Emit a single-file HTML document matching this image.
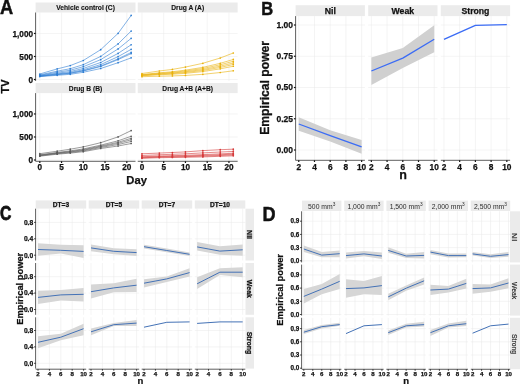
<!DOCTYPE html>
<html><head><meta charset="utf-8"><style>
html,body{margin:0;padding:0;background:#fff;width:520px;height:384px;overflow:hidden}
svg{display:block;font-family:"Liberation Sans",sans-serif;will-change:transform}
</style></head><body>
<svg width="520" height="384" viewBox="0 0 520 384">
<rect width="520" height="384" fill="#fff"/>
<text transform="translate(0.1 14.0) scale(0.97 1.06)" font-size="18.8" font-weight="bold" fill="#111" stroke="#111" stroke-width="0.45">A</text>
<rect x="35.6" y="2.5" width="99.9" height="10" fill="#EBEBEB"/>
<text x="85.55" y="10" font-size="6.7" font-weight="bold" text-anchor="middle" fill="#111" stroke="#111" stroke-width="0.12">Vehicle control (C)</text>
<line x1="39.8" y1="12.5" x2="39.8" y2="81" stroke="#E9E9E9" stroke-width="0.5"/>
<line x1="61.55" y1="12.5" x2="61.55" y2="81" stroke="#E9E9E9" stroke-width="0.5"/>
<line x1="83.3" y1="12.5" x2="83.3" y2="81" stroke="#E9E9E9" stroke-width="0.5"/>
<line x1="105.05" y1="12.5" x2="105.05" y2="81" stroke="#E9E9E9" stroke-width="0.5"/>
<line x1="126.8" y1="12.5" x2="126.8" y2="81" stroke="#E9E9E9" stroke-width="0.5"/>
<line x1="35.6" y1="79.5" x2="135.5" y2="79.5" stroke="#E9E9E9" stroke-width="0.5"/>
<line x1="35.6" y1="56.48" x2="135.5" y2="56.48" stroke="#E9E9E9" stroke-width="0.5"/>
<line x1="35.6" y1="33.46" x2="135.5" y2="33.46" stroke="#E9E9E9" stroke-width="0.5"/>
<rect x="137.75" y="2.5" width="99.9" height="10" fill="#EBEBEB"/>
<text x="187.7" y="10" font-size="6.7" font-weight="bold" text-anchor="middle" fill="#111" stroke="#111" stroke-width="0.12">Drug A (A)</text>
<line x1="141.95" y1="12.5" x2="141.95" y2="81" stroke="#E9E9E9" stroke-width="0.5"/>
<line x1="163.7" y1="12.5" x2="163.7" y2="81" stroke="#E9E9E9" stroke-width="0.5"/>
<line x1="185.45" y1="12.5" x2="185.45" y2="81" stroke="#E9E9E9" stroke-width="0.5"/>
<line x1="207.2" y1="12.5" x2="207.2" y2="81" stroke="#E9E9E9" stroke-width="0.5"/>
<line x1="228.95" y1="12.5" x2="228.95" y2="81" stroke="#E9E9E9" stroke-width="0.5"/>
<line x1="137.75" y1="79.5" x2="237.65" y2="79.5" stroke="#E9E9E9" stroke-width="0.5"/>
<line x1="137.75" y1="56.48" x2="237.65" y2="56.48" stroke="#E9E9E9" stroke-width="0.5"/>
<line x1="137.75" y1="33.46" x2="237.65" y2="33.46" stroke="#E9E9E9" stroke-width="0.5"/>
<line x1="35.6" y1="12.5" x2="35.6" y2="81" stroke="#4d4d4d" stroke-width="0.9"/>
<line x1="33.9" y1="79.5" x2="35.6" y2="79.5" stroke="#111" stroke-width="1.2"/>
<text x="33" y="82.6" font-size="8.2" font-weight="bold" text-anchor="end" fill="#111" stroke="#111" stroke-width="0.25">0</text>
<line x1="33.9" y1="56.48" x2="35.6" y2="56.48" stroke="#111" stroke-width="1.2"/>
<text x="33" y="59.58" font-size="8.2" font-weight="bold" text-anchor="end" fill="#111" stroke="#111" stroke-width="0.25">500</text>
<line x1="33.9" y1="33.46" x2="35.6" y2="33.46" stroke="#111" stroke-width="1.2"/>
<text x="33" y="36.56" font-size="8.2" font-weight="bold" text-anchor="end" fill="#111" stroke="#111" stroke-width="0.25">1,000</text>
<rect x="35.6" y="83" width="99.9" height="10.1" fill="#EBEBEB"/>
<text x="85.55" y="90.6" font-size="6.7" font-weight="bold" text-anchor="middle" fill="#111" stroke="#111" stroke-width="0.12">Drug B (B)</text>
<line x1="39.8" y1="93.1" x2="39.8" y2="161.3" stroke="#E9E9E9" stroke-width="0.5"/>
<line x1="61.55" y1="93.1" x2="61.55" y2="161.3" stroke="#E9E9E9" stroke-width="0.5"/>
<line x1="83.3" y1="93.1" x2="83.3" y2="161.3" stroke="#E9E9E9" stroke-width="0.5"/>
<line x1="105.05" y1="93.1" x2="105.05" y2="161.3" stroke="#E9E9E9" stroke-width="0.5"/>
<line x1="126.8" y1="93.1" x2="126.8" y2="161.3" stroke="#E9E9E9" stroke-width="0.5"/>
<line x1="35.6" y1="160" x2="135.5" y2="160" stroke="#E9E9E9" stroke-width="0.5"/>
<line x1="35.6" y1="136.98" x2="135.5" y2="136.98" stroke="#E9E9E9" stroke-width="0.5"/>
<line x1="35.6" y1="113.96" x2="135.5" y2="113.96" stroke="#E9E9E9" stroke-width="0.5"/>
<rect x="137.75" y="83" width="99.9" height="10.1" fill="#EBEBEB"/>
<text x="187.7" y="90.6" font-size="6.7" font-weight="bold" text-anchor="middle" fill="#111" stroke="#111" stroke-width="0.12">Drug A+B (A+B)</text>
<line x1="141.95" y1="93.1" x2="141.95" y2="161.3" stroke="#E9E9E9" stroke-width="0.5"/>
<line x1="163.7" y1="93.1" x2="163.7" y2="161.3" stroke="#E9E9E9" stroke-width="0.5"/>
<line x1="185.45" y1="93.1" x2="185.45" y2="161.3" stroke="#E9E9E9" stroke-width="0.5"/>
<line x1="207.2" y1="93.1" x2="207.2" y2="161.3" stroke="#E9E9E9" stroke-width="0.5"/>
<line x1="228.95" y1="93.1" x2="228.95" y2="161.3" stroke="#E9E9E9" stroke-width="0.5"/>
<line x1="137.75" y1="160" x2="237.65" y2="160" stroke="#E9E9E9" stroke-width="0.5"/>
<line x1="137.75" y1="136.98" x2="237.65" y2="136.98" stroke="#E9E9E9" stroke-width="0.5"/>
<line x1="137.75" y1="113.96" x2="237.65" y2="113.96" stroke="#E9E9E9" stroke-width="0.5"/>
<line x1="35.6" y1="93.1" x2="35.6" y2="161.3" stroke="#4d4d4d" stroke-width="0.9"/>
<line x1="33.9" y1="160" x2="35.6" y2="160" stroke="#111" stroke-width="1.2"/>
<text x="33" y="163.1" font-size="8.2" font-weight="bold" text-anchor="end" fill="#111" stroke="#111" stroke-width="0.25">0</text>
<line x1="33.9" y1="136.98" x2="35.6" y2="136.98" stroke="#111" stroke-width="1.2"/>
<text x="33" y="140.08" font-size="8.2" font-weight="bold" text-anchor="end" fill="#111" stroke="#111" stroke-width="0.25">500</text>
<line x1="33.9" y1="113.96" x2="35.6" y2="113.96" stroke="#111" stroke-width="1.2"/>
<text x="33" y="117.06" font-size="8.2" font-weight="bold" text-anchor="end" fill="#111" stroke="#111" stroke-width="0.25">1,000</text>
<line x1="35.6" y1="161.3" x2="135.5" y2="161.3" stroke="#4d4d4d" stroke-width="0.9"/>
<line x1="39.8" y1="161.3" x2="39.8" y2="163" stroke="#111" stroke-width="1.2"/>
<text x="39.8" y="169.5" font-size="8.2" font-weight="bold" text-anchor="middle" fill="#111" stroke="#111" stroke-width="0.25">0</text>
<line x1="61.55" y1="161.3" x2="61.55" y2="163" stroke="#111" stroke-width="1.2"/>
<text x="61.55" y="169.5" font-size="8.2" font-weight="bold" text-anchor="middle" fill="#111" stroke="#111" stroke-width="0.25">5</text>
<line x1="83.3" y1="161.3" x2="83.3" y2="163" stroke="#111" stroke-width="1.2"/>
<text x="83.3" y="169.5" font-size="8.2" font-weight="bold" text-anchor="middle" fill="#111" stroke="#111" stroke-width="0.25">10</text>
<line x1="105.05" y1="161.3" x2="105.05" y2="163" stroke="#111" stroke-width="1.2"/>
<text x="105.05" y="169.5" font-size="8.2" font-weight="bold" text-anchor="middle" fill="#111" stroke="#111" stroke-width="0.25">15</text>
<line x1="126.8" y1="161.3" x2="126.8" y2="163" stroke="#111" stroke-width="1.2"/>
<text x="126.8" y="169.5" font-size="8.2" font-weight="bold" text-anchor="middle" fill="#111" stroke="#111" stroke-width="0.25">20</text>
<line x1="137.75" y1="161.3" x2="237.65" y2="161.3" stroke="#4d4d4d" stroke-width="0.9"/>
<line x1="141.95" y1="161.3" x2="141.95" y2="163" stroke="#111" stroke-width="1.2"/>
<text x="141.95" y="169.5" font-size="8.2" font-weight="bold" text-anchor="middle" fill="#111" stroke="#111" stroke-width="0.25">0</text>
<line x1="163.7" y1="161.3" x2="163.7" y2="163" stroke="#111" stroke-width="1.2"/>
<text x="163.7" y="169.5" font-size="8.2" font-weight="bold" text-anchor="middle" fill="#111" stroke="#111" stroke-width="0.25">5</text>
<line x1="185.45" y1="161.3" x2="185.45" y2="163" stroke="#111" stroke-width="1.2"/>
<text x="185.45" y="169.5" font-size="8.2" font-weight="bold" text-anchor="middle" fill="#111" stroke="#111" stroke-width="0.25">10</text>
<line x1="207.2" y1="161.3" x2="207.2" y2="163" stroke="#111" stroke-width="1.2"/>
<text x="207.2" y="169.5" font-size="8.2" font-weight="bold" text-anchor="middle" fill="#111" stroke="#111" stroke-width="0.25">15</text>
<line x1="228.95" y1="161.3" x2="228.95" y2="163" stroke="#111" stroke-width="1.2"/>
<text x="228.95" y="169.5" font-size="8.2" font-weight="bold" text-anchor="middle" fill="#111" stroke="#111" stroke-width="0.25">20</text>
<text x="136.6" y="184" font-size="11.2" font-weight="bold" text-anchor="middle" fill="#111" stroke="#111" stroke-width="0.25">Day</text>
<text x="9.1" y="86.5" font-size="11" font-weight="bold" text-anchor="middle" fill="#111" stroke="#111" stroke-width="0.25" transform="rotate(-90 9.1 86.5)">TV</text>
<polyline points="39.8,73.98 57.2,68.91 70.25,65.6 83.3,60.49 100.7,49.67 118.1,33.37 131.15,15.46" fill="none" stroke="#2F7ED3" stroke-width="0.6" stroke-linejoin="round"/>
<circle cx="39.8" cy="73.98" r="0.85" fill="#2F7ED3"/>
<circle cx="57.2" cy="68.91" r="0.85" fill="#2F7ED3"/>
<circle cx="70.25" cy="65.6" r="0.85" fill="#2F7ED3"/>
<circle cx="83.3" cy="60.49" r="0.85" fill="#2F7ED3"/>
<circle cx="100.7" cy="49.67" r="0.85" fill="#2F7ED3"/>
<circle cx="118.1" cy="33.37" r="0.85" fill="#2F7ED3"/>
<circle cx="131.15" cy="15.46" r="0.85" fill="#2F7ED3"/>
<polyline points="39.8,74.82 57.2,71.16 70.25,68.7 83.3,64.67 100.7,56.41 118.1,43.91 131.15,31.04" fill="none" stroke="#2F7ED3" stroke-width="0.6" stroke-linejoin="round"/>
<circle cx="39.8" cy="74.82" r="0.85" fill="#2F7ED3"/>
<circle cx="57.2" cy="71.16" r="0.85" fill="#2F7ED3"/>
<circle cx="70.25" cy="68.7" r="0.85" fill="#2F7ED3"/>
<circle cx="83.3" cy="64.67" r="0.85" fill="#2F7ED3"/>
<circle cx="100.7" cy="56.41" r="0.85" fill="#2F7ED3"/>
<circle cx="118.1" cy="43.91" r="0.85" fill="#2F7ED3"/>
<circle cx="131.15" cy="31.04" r="0.85" fill="#2F7ED3"/>
<polyline points="39.8,75.25 57.2,72.25 70.25,70.19 83.3,66.69 100.7,59.64 118.1,48.95 131.15,38.37" fill="none" stroke="#2F7ED3" stroke-width="0.6" stroke-linejoin="round"/>
<circle cx="39.8" cy="75.25" r="0.85" fill="#2F7ED3"/>
<circle cx="57.2" cy="72.25" r="0.85" fill="#2F7ED3"/>
<circle cx="70.25" cy="70.19" r="0.85" fill="#2F7ED3"/>
<circle cx="83.3" cy="66.69" r="0.85" fill="#2F7ED3"/>
<circle cx="100.7" cy="59.64" r="0.85" fill="#2F7ED3"/>
<circle cx="118.1" cy="48.95" r="0.85" fill="#2F7ED3"/>
<circle cx="131.15" cy="38.37" r="0.85" fill="#2F7ED3"/>
<polyline points="39.8,75.66 57.2,73.22 70.25,71.51 83.3,68.48 100.7,62.5 118.1,53.4 131.15,44.77" fill="none" stroke="#2F7ED3" stroke-width="0.6" stroke-linejoin="round"/>
<circle cx="39.8" cy="75.66" r="0.85" fill="#2F7ED3"/>
<circle cx="57.2" cy="73.22" r="0.85" fill="#2F7ED3"/>
<circle cx="70.25" cy="71.51" r="0.85" fill="#2F7ED3"/>
<circle cx="83.3" cy="68.48" r="0.85" fill="#2F7ED3"/>
<circle cx="100.7" cy="62.5" r="0.85" fill="#2F7ED3"/>
<circle cx="118.1" cy="53.4" r="0.85" fill="#2F7ED3"/>
<circle cx="131.15" cy="44.77" r="0.85" fill="#2F7ED3"/>
<polyline points="39.8,75.97 57.2,73.94 70.25,72.48 83.3,69.79 100.7,64.58 118.1,56.63 131.15,49.37" fill="none" stroke="#2F7ED3" stroke-width="0.6" stroke-linejoin="round"/>
<circle cx="39.8" cy="75.97" r="0.85" fill="#2F7ED3"/>
<circle cx="57.2" cy="73.94" r="0.85" fill="#2F7ED3"/>
<circle cx="70.25" cy="72.48" r="0.85" fill="#2F7ED3"/>
<circle cx="83.3" cy="69.79" r="0.85" fill="#2F7ED3"/>
<circle cx="100.7" cy="64.58" r="0.85" fill="#2F7ED3"/>
<circle cx="118.1" cy="56.63" r="0.85" fill="#2F7ED3"/>
<circle cx="131.15" cy="49.37" r="0.85" fill="#2F7ED3"/>
<polyline points="39.8,76.19 57.2,74.43 70.25,73.14 83.3,70.69 100.7,66 118.1,58.83 131.15,52.47" fill="none" stroke="#2F7ED3" stroke-width="0.6" stroke-linejoin="round"/>
<circle cx="39.8" cy="76.19" r="0.85" fill="#2F7ED3"/>
<circle cx="57.2" cy="74.43" r="0.85" fill="#2F7ED3"/>
<circle cx="70.25" cy="73.14" r="0.85" fill="#2F7ED3"/>
<circle cx="83.3" cy="70.69" r="0.85" fill="#2F7ED3"/>
<circle cx="100.7" cy="66" r="0.85" fill="#2F7ED3"/>
<circle cx="118.1" cy="58.83" r="0.85" fill="#2F7ED3"/>
<circle cx="131.15" cy="52.47" r="0.85" fill="#2F7ED3"/>
<polyline points="39.8,76.27 57.2,74.61 70.25,73.38 83.3,71.01 100.7,66.52 118.1,59.63 131.15,53.59" fill="none" stroke="#2F7ED3" stroke-width="0.6" stroke-linejoin="round"/>
<circle cx="39.8" cy="76.27" r="0.85" fill="#2F7ED3"/>
<circle cx="57.2" cy="74.61" r="0.85" fill="#2F7ED3"/>
<circle cx="70.25" cy="73.38" r="0.85" fill="#2F7ED3"/>
<circle cx="83.3" cy="71.01" r="0.85" fill="#2F7ED3"/>
<circle cx="100.7" cy="66.52" r="0.85" fill="#2F7ED3"/>
<circle cx="118.1" cy="59.63" r="0.85" fill="#2F7ED3"/>
<circle cx="131.15" cy="53.59" r="0.85" fill="#2F7ED3"/>
<polyline points="39.8,76.6 57.2,75.31 70.25,74.3 83.3,72.27 100.7,68.5 118.1,62.7 131.15,57.86" fill="none" stroke="#2F7ED3" stroke-width="0.6" stroke-linejoin="round"/>
<circle cx="39.8" cy="76.6" r="0.85" fill="#2F7ED3"/>
<circle cx="57.2" cy="75.31" r="0.85" fill="#2F7ED3"/>
<circle cx="70.25" cy="74.3" r="0.85" fill="#2F7ED3"/>
<circle cx="83.3" cy="72.27" r="0.85" fill="#2F7ED3"/>
<circle cx="100.7" cy="68.5" r="0.85" fill="#2F7ED3"/>
<circle cx="118.1" cy="62.7" r="0.85" fill="#2F7ED3"/>
<circle cx="131.15" cy="57.86" r="0.85" fill="#2F7ED3"/>
<polyline points="141.95,73.51 159.35,70.98 172.4,69.42 185.45,67.07 202.85,63.29 220.25,58 233.3,52.98" fill="none" stroke="#E9B10C" stroke-width="0.6" stroke-linejoin="round"/>
<circle cx="141.95" cy="73.51" r="0.85" fill="#E9B10C"/>
<circle cx="159.35" cy="70.98" r="0.85" fill="#E9B10C"/>
<circle cx="172.4" cy="69.42" r="0.85" fill="#E9B10C"/>
<circle cx="185.45" cy="67.07" r="0.85" fill="#E9B10C"/>
<circle cx="202.85" cy="63.29" r="0.85" fill="#E9B10C"/>
<circle cx="220.25" cy="58" r="0.85" fill="#E9B10C"/>
<circle cx="233.3" cy="52.98" r="0.85" fill="#E9B10C"/>
<polyline points="141.95,74.56 159.35,72.79 172.4,71.73 185.45,70.14 202.85,67.37 220.25,63.31 233.3,59.47" fill="none" stroke="#E9B10C" stroke-width="0.6" stroke-linejoin="round"/>
<circle cx="141.95" cy="74.56" r="0.85" fill="#E9B10C"/>
<circle cx="159.35" cy="72.79" r="0.85" fill="#E9B10C"/>
<circle cx="172.4" cy="71.73" r="0.85" fill="#E9B10C"/>
<circle cx="185.45" cy="70.14" r="0.85" fill="#E9B10C"/>
<circle cx="202.85" cy="67.37" r="0.85" fill="#E9B10C"/>
<circle cx="220.25" cy="63.31" r="0.85" fill="#E9B10C"/>
<circle cx="233.3" cy="59.47" r="0.85" fill="#E9B10C"/>
<polyline points="141.95,74.87 159.35,73.31 172.4,72.39 185.45,70.99 202.85,68.5 220.25,64.79 233.3,61.27" fill="none" stroke="#E9B10C" stroke-width="0.6" stroke-linejoin="round"/>
<circle cx="141.95" cy="74.87" r="0.85" fill="#E9B10C"/>
<circle cx="159.35" cy="73.31" r="0.85" fill="#E9B10C"/>
<circle cx="172.4" cy="72.39" r="0.85" fill="#E9B10C"/>
<circle cx="185.45" cy="70.99" r="0.85" fill="#E9B10C"/>
<circle cx="202.85" cy="68.5" r="0.85" fill="#E9B10C"/>
<circle cx="220.25" cy="64.79" r="0.85" fill="#E9B10C"/>
<circle cx="233.3" cy="61.27" r="0.85" fill="#E9B10C"/>
<polyline points="141.95,75.16 159.35,73.8 172.4,73 185.45,71.79 202.85,69.55 220.25,66.17 233.3,62.97" fill="none" stroke="#E9B10C" stroke-width="0.6" stroke-linejoin="round"/>
<circle cx="141.95" cy="75.16" r="0.85" fill="#E9B10C"/>
<circle cx="159.35" cy="73.8" r="0.85" fill="#E9B10C"/>
<circle cx="172.4" cy="73" r="0.85" fill="#E9B10C"/>
<circle cx="185.45" cy="71.79" r="0.85" fill="#E9B10C"/>
<circle cx="202.85" cy="69.55" r="0.85" fill="#E9B10C"/>
<circle cx="220.25" cy="66.17" r="0.85" fill="#E9B10C"/>
<circle cx="233.3" cy="62.97" r="0.85" fill="#E9B10C"/>
<polyline points="141.95,75.44 159.35,74.25 172.4,73.56 185.45,72.51 202.85,70.49 220.25,67.41 233.3,64.49" fill="none" stroke="#E9B10C" stroke-width="0.6" stroke-linejoin="round"/>
<circle cx="141.95" cy="75.44" r="0.85" fill="#E9B10C"/>
<circle cx="159.35" cy="74.25" r="0.85" fill="#E9B10C"/>
<circle cx="172.4" cy="73.56" r="0.85" fill="#E9B10C"/>
<circle cx="185.45" cy="72.51" r="0.85" fill="#E9B10C"/>
<circle cx="202.85" cy="70.49" r="0.85" fill="#E9B10C"/>
<circle cx="220.25" cy="67.41" r="0.85" fill="#E9B10C"/>
<circle cx="233.3" cy="64.49" r="0.85" fill="#E9B10C"/>
<polyline points="141.95,75.77 159.35,74.78 172.4,74.21 185.45,73.33 202.85,71.58 220.25,68.84 233.3,66.24" fill="none" stroke="#E9B10C" stroke-width="0.6" stroke-linejoin="round"/>
<circle cx="141.95" cy="75.77" r="0.85" fill="#E9B10C"/>
<circle cx="159.35" cy="74.78" r="0.85" fill="#E9B10C"/>
<circle cx="172.4" cy="74.21" r="0.85" fill="#E9B10C"/>
<circle cx="185.45" cy="73.33" r="0.85" fill="#E9B10C"/>
<circle cx="202.85" cy="71.58" r="0.85" fill="#E9B10C"/>
<circle cx="220.25" cy="68.84" r="0.85" fill="#E9B10C"/>
<circle cx="233.3" cy="66.24" r="0.85" fill="#E9B10C"/>
<polyline points="141.95,76.69 159.35,76.19 172.4,75.91 185.45,75.45 202.85,74.34 220.25,72.5 233.3,70.75" fill="none" stroke="#E9B10C" stroke-width="0.6" stroke-linejoin="round"/>
<circle cx="141.95" cy="76.69" r="0.85" fill="#E9B10C"/>
<circle cx="159.35" cy="76.19" r="0.85" fill="#E9B10C"/>
<circle cx="172.4" cy="75.91" r="0.85" fill="#E9B10C"/>
<circle cx="185.45" cy="75.45" r="0.85" fill="#E9B10C"/>
<circle cx="202.85" cy="74.34" r="0.85" fill="#E9B10C"/>
<circle cx="220.25" cy="72.5" r="0.85" fill="#E9B10C"/>
<circle cx="233.3" cy="70.75" r="0.85" fill="#E9B10C"/>
<polyline points="39.8,153.69 57.2,151.21 70.25,149.18 83.3,146.88 100.7,142.69 118.1,136.89 131.15,130.58" fill="none" stroke="#5A5A5A" stroke-width="0.6" stroke-linejoin="round"/>
<circle cx="39.8" cy="153.69" r="0.85" fill="#5A5A5A"/>
<circle cx="57.2" cy="151.21" r="0.85" fill="#5A5A5A"/>
<circle cx="70.25" cy="149.18" r="0.85" fill="#5A5A5A"/>
<circle cx="83.3" cy="146.88" r="0.85" fill="#5A5A5A"/>
<circle cx="100.7" cy="142.69" r="0.85" fill="#5A5A5A"/>
<circle cx="118.1" cy="136.89" r="0.85" fill="#5A5A5A"/>
<circle cx="131.15" cy="130.58" r="0.85" fill="#5A5A5A"/>
<polyline points="39.8,154.77 57.2,152.47 70.25,150.84 83.3,148.94 100.7,145.13 118.1,140.82 131.15,136.28" fill="none" stroke="#5A5A5A" stroke-width="0.6" stroke-linejoin="round"/>
<circle cx="39.8" cy="154.77" r="0.85" fill="#5A5A5A"/>
<circle cx="57.2" cy="152.47" r="0.85" fill="#5A5A5A"/>
<circle cx="70.25" cy="150.84" r="0.85" fill="#5A5A5A"/>
<circle cx="83.3" cy="148.94" r="0.85" fill="#5A5A5A"/>
<circle cx="100.7" cy="145.13" r="0.85" fill="#5A5A5A"/>
<circle cx="118.1" cy="140.82" r="0.85" fill="#5A5A5A"/>
<circle cx="131.15" cy="136.28" r="0.85" fill="#5A5A5A"/>
<polyline points="39.8,155.15 57.2,152.93 70.25,151.46 83.3,149.7 100.7,146.03 118.1,142.25 131.15,138.31" fill="none" stroke="#5A5A5A" stroke-width="0.6" stroke-linejoin="round"/>
<circle cx="39.8" cy="155.15" r="0.85" fill="#5A5A5A"/>
<circle cx="57.2" cy="152.93" r="0.85" fill="#5A5A5A"/>
<circle cx="70.25" cy="151.46" r="0.85" fill="#5A5A5A"/>
<circle cx="83.3" cy="149.7" r="0.85" fill="#5A5A5A"/>
<circle cx="100.7" cy="146.03" r="0.85" fill="#5A5A5A"/>
<circle cx="118.1" cy="142.25" r="0.85" fill="#5A5A5A"/>
<circle cx="131.15" cy="138.31" r="0.85" fill="#5A5A5A"/>
<polyline points="39.8,155.44 57.2,153.28 70.25,151.91 83.3,150.26 100.7,146.71 118.1,143.3 131.15,139.79" fill="none" stroke="#5A5A5A" stroke-width="0.6" stroke-linejoin="round"/>
<circle cx="39.8" cy="155.44" r="0.85" fill="#5A5A5A"/>
<circle cx="57.2" cy="153.28" r="0.85" fill="#5A5A5A"/>
<circle cx="70.25" cy="151.91" r="0.85" fill="#5A5A5A"/>
<circle cx="83.3" cy="150.26" r="0.85" fill="#5A5A5A"/>
<circle cx="100.7" cy="146.71" r="0.85" fill="#5A5A5A"/>
<circle cx="118.1" cy="143.3" r="0.85" fill="#5A5A5A"/>
<circle cx="131.15" cy="139.79" r="0.85" fill="#5A5A5A"/>
<polyline points="39.8,155.78 57.2,153.7 70.25,152.45 83.3,150.92 100.7,147.51 118.1,144.53 131.15,141.49" fill="none" stroke="#5A5A5A" stroke-width="0.6" stroke-linejoin="round"/>
<circle cx="39.8" cy="155.78" r="0.85" fill="#5A5A5A"/>
<circle cx="57.2" cy="153.7" r="0.85" fill="#5A5A5A"/>
<circle cx="70.25" cy="152.45" r="0.85" fill="#5A5A5A"/>
<circle cx="83.3" cy="150.92" r="0.85" fill="#5A5A5A"/>
<circle cx="100.7" cy="147.51" r="0.85" fill="#5A5A5A"/>
<circle cx="118.1" cy="144.53" r="0.85" fill="#5A5A5A"/>
<circle cx="131.15" cy="141.49" r="0.85" fill="#5A5A5A"/>
<polyline points="39.8,156.18 57.2,154.2 70.25,153.09 83.3,151.71 100.7,148.49 118.1,146 131.15,143.52" fill="none" stroke="#5A5A5A" stroke-width="0.6" stroke-linejoin="round"/>
<circle cx="39.8" cy="156.18" r="0.85" fill="#5A5A5A"/>
<circle cx="57.2" cy="154.2" r="0.85" fill="#5A5A5A"/>
<circle cx="70.25" cy="153.09" r="0.85" fill="#5A5A5A"/>
<circle cx="83.3" cy="151.71" r="0.85" fill="#5A5A5A"/>
<circle cx="100.7" cy="148.49" r="0.85" fill="#5A5A5A"/>
<circle cx="118.1" cy="146" r="0.85" fill="#5A5A5A"/>
<circle cx="131.15" cy="143.52" r="0.85" fill="#5A5A5A"/>
<polyline points="141.95,153.78 159.35,153.09 172.4,152.5 185.45,151.9 202.85,150.61 220.25,149.69 233.3,149.18" fill="none" stroke="#D53A3A" stroke-width="0.6" stroke-linejoin="round"/>
<circle cx="141.95" cy="153.78" r="0.85" fill="#D53A3A"/>
<circle cx="159.35" cy="153.09" r="0.85" fill="#D53A3A"/>
<circle cx="172.4" cy="152.5" r="0.85" fill="#D53A3A"/>
<circle cx="185.45" cy="151.9" r="0.85" fill="#D53A3A"/>
<circle cx="202.85" cy="150.61" r="0.85" fill="#D53A3A"/>
<circle cx="220.25" cy="149.69" r="0.85" fill="#D53A3A"/>
<circle cx="233.3" cy="149.18" r="0.85" fill="#D53A3A"/>
<polyline points="141.95,155.5 159.35,154.75 172.4,154.31 185.45,153.83 202.85,152.89 220.25,152.03 233.3,151.47" fill="none" stroke="#D53A3A" stroke-width="0.6" stroke-linejoin="round"/>
<circle cx="141.95" cy="155.5" r="0.85" fill="#D53A3A"/>
<circle cx="159.35" cy="154.75" r="0.85" fill="#D53A3A"/>
<circle cx="172.4" cy="154.31" r="0.85" fill="#D53A3A"/>
<circle cx="185.45" cy="153.83" r="0.85" fill="#D53A3A"/>
<circle cx="202.85" cy="152.89" r="0.85" fill="#D53A3A"/>
<circle cx="220.25" cy="152.03" r="0.85" fill="#D53A3A"/>
<circle cx="233.3" cy="151.47" r="0.85" fill="#D53A3A"/>
<polyline points="141.95,156.75 159.35,156.01 172.4,155.68 185.45,155.31 202.85,154.62 220.25,153.84 233.3,153.27" fill="none" stroke="#D53A3A" stroke-width="0.6" stroke-linejoin="round"/>
<circle cx="141.95" cy="156.75" r="0.85" fill="#D53A3A"/>
<circle cx="159.35" cy="156.01" r="0.85" fill="#D53A3A"/>
<circle cx="172.4" cy="155.68" r="0.85" fill="#D53A3A"/>
<circle cx="185.45" cy="155.31" r="0.85" fill="#D53A3A"/>
<circle cx="202.85" cy="154.62" r="0.85" fill="#D53A3A"/>
<circle cx="220.25" cy="153.84" r="0.85" fill="#D53A3A"/>
<circle cx="233.3" cy="153.27" r="0.85" fill="#D53A3A"/>
<polyline points="141.95,157.32 159.35,156.62 172.4,156.34 185.45,156.02 202.85,155.45 220.25,154.72 233.3,154.16" fill="none" stroke="#D53A3A" stroke-width="0.6" stroke-linejoin="round"/>
<circle cx="141.95" cy="157.32" r="0.85" fill="#D53A3A"/>
<circle cx="159.35" cy="156.62" r="0.85" fill="#D53A3A"/>
<circle cx="172.4" cy="156.34" r="0.85" fill="#D53A3A"/>
<circle cx="185.45" cy="156.02" r="0.85" fill="#D53A3A"/>
<circle cx="202.85" cy="155.45" r="0.85" fill="#D53A3A"/>
<circle cx="220.25" cy="154.72" r="0.85" fill="#D53A3A"/>
<circle cx="233.3" cy="154.16" r="0.85" fill="#D53A3A"/>
<polyline points="141.95,157.79 159.35,157.13 172.4,156.9 185.45,156.62 202.85,156.15 220.25,155.47 233.3,154.93" fill="none" stroke="#D53A3A" stroke-width="0.6" stroke-linejoin="round"/>
<circle cx="141.95" cy="157.79" r="0.85" fill="#D53A3A"/>
<circle cx="159.35" cy="157.13" r="0.85" fill="#D53A3A"/>
<circle cx="172.4" cy="156.9" r="0.85" fill="#D53A3A"/>
<circle cx="185.45" cy="156.62" r="0.85" fill="#D53A3A"/>
<circle cx="202.85" cy="156.15" r="0.85" fill="#D53A3A"/>
<circle cx="220.25" cy="155.47" r="0.85" fill="#D53A3A"/>
<circle cx="233.3" cy="154.93" r="0.85" fill="#D53A3A"/>
<polyline points="141.95,158.3 159.35,157.7 172.4,157.51 185.45,157.28 202.85,156.92 220.25,156.32 233.3,155.81" fill="none" stroke="#D53A3A" stroke-width="0.6" stroke-linejoin="round"/>
<circle cx="141.95" cy="158.3" r="0.85" fill="#D53A3A"/>
<circle cx="159.35" cy="157.7" r="0.85" fill="#D53A3A"/>
<circle cx="172.4" cy="157.51" r="0.85" fill="#D53A3A"/>
<circle cx="185.45" cy="157.28" r="0.85" fill="#D53A3A"/>
<circle cx="202.85" cy="156.92" r="0.85" fill="#D53A3A"/>
<circle cx="220.25" cy="156.32" r="0.85" fill="#D53A3A"/>
<circle cx="233.3" cy="155.81" r="0.85" fill="#D53A3A"/>
<line x1="141.95" y1="153.78" x2="141.95" y2="158.3" stroke="#D53A3A" stroke-width="0.7"/>
<line x1="159.35" y1="153.09" x2="159.35" y2="157.7" stroke="#D53A3A" stroke-width="0.7"/>
<line x1="172.4" y1="152.5" x2="172.4" y2="157.51" stroke="#D53A3A" stroke-width="0.7"/>
<line x1="185.45" y1="151.9" x2="185.45" y2="157.28" stroke="#D53A3A" stroke-width="0.7"/>
<line x1="202.85" y1="150.61" x2="202.85" y2="156.92" stroke="#D53A3A" stroke-width="0.7"/>
<line x1="220.25" y1="149.69" x2="220.25" y2="156.32" stroke="#D53A3A" stroke-width="0.7"/>
<line x1="233.3" y1="149.18" x2="233.3" y2="155.81" stroke="#D53A3A" stroke-width="0.7"/>
<text transform="translate(261.2 15.3) scale(0.89 1.03)" font-size="18.5" font-weight="bold" fill="#111" stroke="#111" stroke-width="0.5">B</text>
<rect x="295.6" y="5.2" width="69.3" height="10.9" fill="#EBEBEB"/>
<text x="330.25" y="13.85" font-size="8.7" font-weight="bold" text-anchor="middle" fill="#111" stroke="#111" stroke-width="0.25">Nil</text>
<line x1="298.75" y1="16.1" x2="298.75" y2="160.3" stroke="#E9E9E9" stroke-width="0.5"/>
<line x1="314.47" y1="16.1" x2="314.47" y2="160.3" stroke="#E9E9E9" stroke-width="0.5"/>
<line x1="330.19" y1="16.1" x2="330.19" y2="160.3" stroke="#E9E9E9" stroke-width="0.5"/>
<line x1="345.91" y1="16.1" x2="345.91" y2="160.3" stroke="#E9E9E9" stroke-width="0.5"/>
<line x1="361.63" y1="16.1" x2="361.63" y2="160.3" stroke="#E9E9E9" stroke-width="0.5"/>
<line x1="295.6" y1="150" x2="364.9" y2="150" stroke="#E9E9E9" stroke-width="0.5"/>
<line x1="295.6" y1="118.75" x2="364.9" y2="118.75" stroke="#E9E9E9" stroke-width="0.5"/>
<line x1="295.6" y1="87.5" x2="364.9" y2="87.5" stroke="#E9E9E9" stroke-width="0.5"/>
<line x1="295.6" y1="56.25" x2="364.9" y2="56.25" stroke="#E9E9E9" stroke-width="0.5"/>
<line x1="295.6" y1="25" x2="364.9" y2="25" stroke="#E9E9E9" stroke-width="0.5"/>
<line x1="295.6" y1="160.3" x2="364.9" y2="160.3" stroke="#4d4d4d" stroke-width="0.9"/>
<line x1="298.75" y1="160.3" x2="298.75" y2="162" stroke="#111" stroke-width="1.2"/>
<text x="298.75" y="169.6" font-size="8.3" font-weight="bold" text-anchor="middle" fill="#111" stroke="#111" stroke-width="0.25">2</text>
<line x1="314.47" y1="160.3" x2="314.47" y2="162" stroke="#111" stroke-width="1.2"/>
<text x="314.47" y="169.6" font-size="8.3" font-weight="bold" text-anchor="middle" fill="#111" stroke="#111" stroke-width="0.25">4</text>
<line x1="330.19" y1="160.3" x2="330.19" y2="162" stroke="#111" stroke-width="1.2"/>
<text x="330.19" y="169.6" font-size="8.3" font-weight="bold" text-anchor="middle" fill="#111" stroke="#111" stroke-width="0.25">6</text>
<line x1="345.91" y1="160.3" x2="345.91" y2="162" stroke="#111" stroke-width="1.2"/>
<text x="345.91" y="169.6" font-size="8.3" font-weight="bold" text-anchor="middle" fill="#111" stroke="#111" stroke-width="0.25">8</text>
<line x1="361.63" y1="160.3" x2="361.63" y2="162" stroke="#111" stroke-width="1.2"/>
<text x="361.63" y="169.6" font-size="8.3" font-weight="bold" text-anchor="middle" fill="#111" stroke="#111" stroke-width="0.25">10</text>
<rect x="368.2" y="5.2" width="69.3" height="10.9" fill="#EBEBEB"/>
<text x="402.85" y="13.85" font-size="8.7" font-weight="bold" text-anchor="middle" fill="#111" stroke="#111" stroke-width="0.25">Weak</text>
<line x1="371.35" y1="16.1" x2="371.35" y2="160.3" stroke="#E9E9E9" stroke-width="0.5"/>
<line x1="387.07" y1="16.1" x2="387.07" y2="160.3" stroke="#E9E9E9" stroke-width="0.5"/>
<line x1="402.79" y1="16.1" x2="402.79" y2="160.3" stroke="#E9E9E9" stroke-width="0.5"/>
<line x1="418.51" y1="16.1" x2="418.51" y2="160.3" stroke="#E9E9E9" stroke-width="0.5"/>
<line x1="434.23" y1="16.1" x2="434.23" y2="160.3" stroke="#E9E9E9" stroke-width="0.5"/>
<line x1="368.2" y1="150" x2="437.5" y2="150" stroke="#E9E9E9" stroke-width="0.5"/>
<line x1="368.2" y1="118.75" x2="437.5" y2="118.75" stroke="#E9E9E9" stroke-width="0.5"/>
<line x1="368.2" y1="87.5" x2="437.5" y2="87.5" stroke="#E9E9E9" stroke-width="0.5"/>
<line x1="368.2" y1="56.25" x2="437.5" y2="56.25" stroke="#E9E9E9" stroke-width="0.5"/>
<line x1="368.2" y1="25" x2="437.5" y2="25" stroke="#E9E9E9" stroke-width="0.5"/>
<line x1="368.2" y1="160.3" x2="437.5" y2="160.3" stroke="#4d4d4d" stroke-width="0.9"/>
<line x1="371.35" y1="160.3" x2="371.35" y2="162" stroke="#111" stroke-width="1.2"/>
<text x="371.35" y="169.6" font-size="8.3" font-weight="bold" text-anchor="middle" fill="#111" stroke="#111" stroke-width="0.25">2</text>
<line x1="387.07" y1="160.3" x2="387.07" y2="162" stroke="#111" stroke-width="1.2"/>
<text x="387.07" y="169.6" font-size="8.3" font-weight="bold" text-anchor="middle" fill="#111" stroke="#111" stroke-width="0.25">4</text>
<line x1="402.79" y1="160.3" x2="402.79" y2="162" stroke="#111" stroke-width="1.2"/>
<text x="402.79" y="169.6" font-size="8.3" font-weight="bold" text-anchor="middle" fill="#111" stroke="#111" stroke-width="0.25">6</text>
<line x1="418.51" y1="160.3" x2="418.51" y2="162" stroke="#111" stroke-width="1.2"/>
<text x="418.51" y="169.6" font-size="8.3" font-weight="bold" text-anchor="middle" fill="#111" stroke="#111" stroke-width="0.25">8</text>
<line x1="434.23" y1="160.3" x2="434.23" y2="162" stroke="#111" stroke-width="1.2"/>
<text x="434.23" y="169.6" font-size="8.3" font-weight="bold" text-anchor="middle" fill="#111" stroke="#111" stroke-width="0.25">10</text>
<rect x="440.8" y="5.2" width="69.3" height="10.9" fill="#EBEBEB"/>
<text x="475.45" y="13.85" font-size="8.7" font-weight="bold" text-anchor="middle" fill="#111" stroke="#111" stroke-width="0.25">Strong</text>
<line x1="443.95" y1="16.1" x2="443.95" y2="160.3" stroke="#E9E9E9" stroke-width="0.5"/>
<line x1="459.67" y1="16.1" x2="459.67" y2="160.3" stroke="#E9E9E9" stroke-width="0.5"/>
<line x1="475.39" y1="16.1" x2="475.39" y2="160.3" stroke="#E9E9E9" stroke-width="0.5"/>
<line x1="491.11" y1="16.1" x2="491.11" y2="160.3" stroke="#E9E9E9" stroke-width="0.5"/>
<line x1="506.83" y1="16.1" x2="506.83" y2="160.3" stroke="#E9E9E9" stroke-width="0.5"/>
<line x1="440.8" y1="150" x2="510.1" y2="150" stroke="#E9E9E9" stroke-width="0.5"/>
<line x1="440.8" y1="118.75" x2="510.1" y2="118.75" stroke="#E9E9E9" stroke-width="0.5"/>
<line x1="440.8" y1="87.5" x2="510.1" y2="87.5" stroke="#E9E9E9" stroke-width="0.5"/>
<line x1="440.8" y1="56.25" x2="510.1" y2="56.25" stroke="#E9E9E9" stroke-width="0.5"/>
<line x1="440.8" y1="25" x2="510.1" y2="25" stroke="#E9E9E9" stroke-width="0.5"/>
<line x1="440.8" y1="160.3" x2="510.1" y2="160.3" stroke="#4d4d4d" stroke-width="0.9"/>
<line x1="443.95" y1="160.3" x2="443.95" y2="162" stroke="#111" stroke-width="1.2"/>
<text x="443.95" y="169.6" font-size="8.3" font-weight="bold" text-anchor="middle" fill="#111" stroke="#111" stroke-width="0.25">2</text>
<line x1="459.67" y1="160.3" x2="459.67" y2="162" stroke="#111" stroke-width="1.2"/>
<text x="459.67" y="169.6" font-size="8.3" font-weight="bold" text-anchor="middle" fill="#111" stroke="#111" stroke-width="0.25">4</text>
<line x1="475.39" y1="160.3" x2="475.39" y2="162" stroke="#111" stroke-width="1.2"/>
<text x="475.39" y="169.6" font-size="8.3" font-weight="bold" text-anchor="middle" fill="#111" stroke="#111" stroke-width="0.25">6</text>
<line x1="491.11" y1="160.3" x2="491.11" y2="162" stroke="#111" stroke-width="1.2"/>
<text x="491.11" y="169.6" font-size="8.3" font-weight="bold" text-anchor="middle" fill="#111" stroke="#111" stroke-width="0.25">8</text>
<line x1="506.83" y1="160.3" x2="506.83" y2="162" stroke="#111" stroke-width="1.2"/>
<text x="506.83" y="169.6" font-size="8.3" font-weight="bold" text-anchor="middle" fill="#111" stroke="#111" stroke-width="0.25">10</text>
<line x1="295.6" y1="16.1" x2="295.6" y2="160.3" stroke="#4d4d4d" stroke-width="0.9"/>
<line x1="293.9" y1="150" x2="295.6" y2="150" stroke="#111" stroke-width="1.2"/>
<text x="293" y="152.9" font-size="8.5" font-weight="bold" text-anchor="end" fill="#111" stroke="#111" stroke-width="0.25">0.00</text>
<line x1="293.9" y1="118.75" x2="295.6" y2="118.75" stroke="#111" stroke-width="1.2"/>
<text x="293" y="121.65" font-size="8.5" font-weight="bold" text-anchor="end" fill="#111" stroke="#111" stroke-width="0.25">0.25</text>
<line x1="293.9" y1="87.5" x2="295.6" y2="87.5" stroke="#111" stroke-width="1.2"/>
<text x="293" y="90.4" font-size="8.5" font-weight="bold" text-anchor="end" fill="#111" stroke="#111" stroke-width="0.25">0.50</text>
<line x1="293.9" y1="56.25" x2="295.6" y2="56.25" stroke="#111" stroke-width="1.2"/>
<text x="293" y="59.15" font-size="8.5" font-weight="bold" text-anchor="end" fill="#111" stroke="#111" stroke-width="0.25">0.75</text>
<line x1="293.9" y1="25" x2="295.6" y2="25" stroke="#111" stroke-width="1.2"/>
<text x="293" y="27.9" font-size="8.5" font-weight="bold" text-anchor="end" fill="#111" stroke="#111" stroke-width="0.25">1.00</text>
<text x="403" y="179.4" font-size="12.5" font-weight="bold" text-anchor="middle" fill="#111" stroke="#111" stroke-width="0.25">n</text>
<text x="268.7" y="87.85" font-size="12" font-weight="bold" text-anchor="middle" fill="#111" stroke="#111" stroke-width="0.3" transform="rotate(-90 268.7 87.85)" textLength="93.9" lengthAdjust="spacingAndGlyphs">Empirical power</text>
<polygon points="298.75,117.2 330.19,130.2 361.63,140 361.63,153.7 330.19,141.4 298.75,130.8" fill="#D0D0D0"/>
<polyline points="298.75,124 330.19,135.7 361.63,146.8" fill="none" stroke="#3B6CF5" stroke-width="1.3" stroke-linejoin="round"/>
<polygon points="371.35,57.5 402.79,48.1 434.23,25.2 434.23,52.3 402.79,67.9 371.35,85" fill="#D0D0D0"/>
<polyline points="371.35,71 402.79,58.1 434.23,39.2" fill="none" stroke="#3B6CF5" stroke-width="1.3" stroke-linejoin="round"/>
<polyline points="443.95,39.4 475.39,25.4 506.83,24.6" fill="none" stroke="#3B6CF5" stroke-width="1.3" stroke-linejoin="round"/>
<text transform="translate(-0.1 220.4) scale(0.85 1.08)" font-size="18.5" font-weight="bold" fill="#111" stroke="#111" stroke-width="0.7">C</text>
<rect x="35.7" y="200.4" width="50.5" height="8.2" fill="#EBEBEB"/>
<text x="60.95" y="206.9" font-size="6.6" font-weight="bold" text-anchor="middle" fill="#111" stroke="#111" stroke-width="0.25">DT=3</text>
<rect x="88.7" y="200.4" width="50.5" height="8.2" fill="#EBEBEB"/>
<text x="113.95" y="206.9" font-size="6.6" font-weight="bold" text-anchor="middle" fill="#111" stroke="#111" stroke-width="0.25">DT=5</text>
<rect x="141.7" y="200.4" width="50.5" height="8.2" fill="#EBEBEB"/>
<text x="166.95" y="206.9" font-size="6.6" font-weight="bold" text-anchor="middle" fill="#111" stroke="#111" stroke-width="0.25">DT=7</text>
<rect x="194.8" y="200.4" width="50.5" height="8.2" fill="#EBEBEB"/>
<text x="220.05" y="206.9" font-size="6.6" font-weight="bold" text-anchor="middle" fill="#111" stroke="#111" stroke-width="0.25">DT=10</text>
<rect x="245.5" y="208.7" width="8.5" height="51.8" fill="#EBEBEB"/>
<text x="246.9" y="234.6" font-size="7.0" font-weight="bold" text-anchor="middle" fill="#111" stroke="#111" stroke-width="0.25" transform="rotate(90 246.9 234.6)">Nil</text>
<line x1="38" y1="208.7" x2="38" y2="260.5" stroke="#E9E9E9" stroke-width="0.5"/>
<line x1="49.4" y1="208.7" x2="49.4" y2="260.5" stroke="#E9E9E9" stroke-width="0.5"/>
<line x1="60.8" y1="208.7" x2="60.8" y2="260.5" stroke="#E9E9E9" stroke-width="0.5"/>
<line x1="72.2" y1="208.7" x2="72.2" y2="260.5" stroke="#E9E9E9" stroke-width="0.5"/>
<line x1="83.6" y1="208.7" x2="83.6" y2="260.5" stroke="#E9E9E9" stroke-width="0.5"/>
<line x1="35.7" y1="255.2" x2="86.2" y2="255.2" stroke="#E9E9E9" stroke-width="0.5"/>
<line x1="35.7" y1="238.8" x2="86.2" y2="238.8" stroke="#E9E9E9" stroke-width="0.5"/>
<line x1="35.7" y1="222.4" x2="86.2" y2="222.4" stroke="#E9E9E9" stroke-width="0.5"/>
<line x1="91" y1="208.7" x2="91" y2="260.5" stroke="#E9E9E9" stroke-width="0.5"/>
<line x1="102.4" y1="208.7" x2="102.4" y2="260.5" stroke="#E9E9E9" stroke-width="0.5"/>
<line x1="113.8" y1="208.7" x2="113.8" y2="260.5" stroke="#E9E9E9" stroke-width="0.5"/>
<line x1="125.2" y1="208.7" x2="125.2" y2="260.5" stroke="#E9E9E9" stroke-width="0.5"/>
<line x1="136.6" y1="208.7" x2="136.6" y2="260.5" stroke="#E9E9E9" stroke-width="0.5"/>
<line x1="88.7" y1="255.2" x2="139.2" y2="255.2" stroke="#E9E9E9" stroke-width="0.5"/>
<line x1="88.7" y1="238.8" x2="139.2" y2="238.8" stroke="#E9E9E9" stroke-width="0.5"/>
<line x1="88.7" y1="222.4" x2="139.2" y2="222.4" stroke="#E9E9E9" stroke-width="0.5"/>
<line x1="144" y1="208.7" x2="144" y2="260.5" stroke="#E9E9E9" stroke-width="0.5"/>
<line x1="155.4" y1="208.7" x2="155.4" y2="260.5" stroke="#E9E9E9" stroke-width="0.5"/>
<line x1="166.8" y1="208.7" x2="166.8" y2="260.5" stroke="#E9E9E9" stroke-width="0.5"/>
<line x1="178.2" y1="208.7" x2="178.2" y2="260.5" stroke="#E9E9E9" stroke-width="0.5"/>
<line x1="189.6" y1="208.7" x2="189.6" y2="260.5" stroke="#E9E9E9" stroke-width="0.5"/>
<line x1="141.7" y1="255.2" x2="192.2" y2="255.2" stroke="#E9E9E9" stroke-width="0.5"/>
<line x1="141.7" y1="238.8" x2="192.2" y2="238.8" stroke="#E9E9E9" stroke-width="0.5"/>
<line x1="141.7" y1="222.4" x2="192.2" y2="222.4" stroke="#E9E9E9" stroke-width="0.5"/>
<line x1="197.1" y1="208.7" x2="197.1" y2="260.5" stroke="#E9E9E9" stroke-width="0.5"/>
<line x1="208.5" y1="208.7" x2="208.5" y2="260.5" stroke="#E9E9E9" stroke-width="0.5"/>
<line x1="219.9" y1="208.7" x2="219.9" y2="260.5" stroke="#E9E9E9" stroke-width="0.5"/>
<line x1="231.3" y1="208.7" x2="231.3" y2="260.5" stroke="#E9E9E9" stroke-width="0.5"/>
<line x1="242.7" y1="208.7" x2="242.7" y2="260.5" stroke="#E9E9E9" stroke-width="0.5"/>
<line x1="194.8" y1="255.2" x2="245.3" y2="255.2" stroke="#E9E9E9" stroke-width="0.5"/>
<line x1="194.8" y1="238.8" x2="245.3" y2="238.8" stroke="#E9E9E9" stroke-width="0.5"/>
<line x1="194.8" y1="222.4" x2="245.3" y2="222.4" stroke="#E9E9E9" stroke-width="0.5"/>
<line x1="35.6" y1="208.7" x2="35.6" y2="260.5" stroke="#4d4d4d" stroke-width="0.9"/>
<line x1="34.2" y1="255.2" x2="35.6" y2="255.2" stroke="#222" stroke-width="1.0"/>
<text x="33.2" y="257.5" font-size="6.7" font-weight="bold" text-anchor="end" fill="#111" stroke="#111" stroke-width="0.25">0.0</text>
<line x1="34.2" y1="238.8" x2="35.6" y2="238.8" stroke="#222" stroke-width="1.0"/>
<text x="33.2" y="241.1" font-size="6.7" font-weight="bold" text-anchor="end" fill="#111" stroke="#111" stroke-width="0.25">0.4</text>
<line x1="34.2" y1="222.4" x2="35.6" y2="222.4" stroke="#222" stroke-width="1.0"/>
<text x="33.2" y="224.7" font-size="6.7" font-weight="bold" text-anchor="end" fill="#111" stroke="#111" stroke-width="0.25">0.8</text>
<rect x="245.5" y="263" width="8.5" height="51.8" fill="#EBEBEB"/>
<text x="246.9" y="288.9" font-size="7.0" font-weight="bold" text-anchor="middle" fill="#111" stroke="#111" stroke-width="0.25" transform="rotate(90 246.9 288.9)">Weak</text>
<line x1="38" y1="263" x2="38" y2="314.8" stroke="#E9E9E9" stroke-width="0.5"/>
<line x1="49.4" y1="263" x2="49.4" y2="314.8" stroke="#E9E9E9" stroke-width="0.5"/>
<line x1="60.8" y1="263" x2="60.8" y2="314.8" stroke="#E9E9E9" stroke-width="0.5"/>
<line x1="72.2" y1="263" x2="72.2" y2="314.8" stroke="#E9E9E9" stroke-width="0.5"/>
<line x1="83.6" y1="263" x2="83.6" y2="314.8" stroke="#E9E9E9" stroke-width="0.5"/>
<line x1="35.7" y1="309.5" x2="86.2" y2="309.5" stroke="#E9E9E9" stroke-width="0.5"/>
<line x1="35.7" y1="293.1" x2="86.2" y2="293.1" stroke="#E9E9E9" stroke-width="0.5"/>
<line x1="35.7" y1="276.7" x2="86.2" y2="276.7" stroke="#E9E9E9" stroke-width="0.5"/>
<line x1="91" y1="263" x2="91" y2="314.8" stroke="#E9E9E9" stroke-width="0.5"/>
<line x1="102.4" y1="263" x2="102.4" y2="314.8" stroke="#E9E9E9" stroke-width="0.5"/>
<line x1="113.8" y1="263" x2="113.8" y2="314.8" stroke="#E9E9E9" stroke-width="0.5"/>
<line x1="125.2" y1="263" x2="125.2" y2="314.8" stroke="#E9E9E9" stroke-width="0.5"/>
<line x1="136.6" y1="263" x2="136.6" y2="314.8" stroke="#E9E9E9" stroke-width="0.5"/>
<line x1="88.7" y1="309.5" x2="139.2" y2="309.5" stroke="#E9E9E9" stroke-width="0.5"/>
<line x1="88.7" y1="293.1" x2="139.2" y2="293.1" stroke="#E9E9E9" stroke-width="0.5"/>
<line x1="88.7" y1="276.7" x2="139.2" y2="276.7" stroke="#E9E9E9" stroke-width="0.5"/>
<line x1="144" y1="263" x2="144" y2="314.8" stroke="#E9E9E9" stroke-width="0.5"/>
<line x1="155.4" y1="263" x2="155.4" y2="314.8" stroke="#E9E9E9" stroke-width="0.5"/>
<line x1="166.8" y1="263" x2="166.8" y2="314.8" stroke="#E9E9E9" stroke-width="0.5"/>
<line x1="178.2" y1="263" x2="178.2" y2="314.8" stroke="#E9E9E9" stroke-width="0.5"/>
<line x1="189.6" y1="263" x2="189.6" y2="314.8" stroke="#E9E9E9" stroke-width="0.5"/>
<line x1="141.7" y1="309.5" x2="192.2" y2="309.5" stroke="#E9E9E9" stroke-width="0.5"/>
<line x1="141.7" y1="293.1" x2="192.2" y2="293.1" stroke="#E9E9E9" stroke-width="0.5"/>
<line x1="141.7" y1="276.7" x2="192.2" y2="276.7" stroke="#E9E9E9" stroke-width="0.5"/>
<line x1="197.1" y1="263" x2="197.1" y2="314.8" stroke="#E9E9E9" stroke-width="0.5"/>
<line x1="208.5" y1="263" x2="208.5" y2="314.8" stroke="#E9E9E9" stroke-width="0.5"/>
<line x1="219.9" y1="263" x2="219.9" y2="314.8" stroke="#E9E9E9" stroke-width="0.5"/>
<line x1="231.3" y1="263" x2="231.3" y2="314.8" stroke="#E9E9E9" stroke-width="0.5"/>
<line x1="242.7" y1="263" x2="242.7" y2="314.8" stroke="#E9E9E9" stroke-width="0.5"/>
<line x1="194.8" y1="309.5" x2="245.3" y2="309.5" stroke="#E9E9E9" stroke-width="0.5"/>
<line x1="194.8" y1="293.1" x2="245.3" y2="293.1" stroke="#E9E9E9" stroke-width="0.5"/>
<line x1="194.8" y1="276.7" x2="245.3" y2="276.7" stroke="#E9E9E9" stroke-width="0.5"/>
<line x1="35.6" y1="263" x2="35.6" y2="314.8" stroke="#4d4d4d" stroke-width="0.9"/>
<line x1="34.2" y1="309.5" x2="35.6" y2="309.5" stroke="#222" stroke-width="1.0"/>
<text x="33.2" y="311.8" font-size="6.7" font-weight="bold" text-anchor="end" fill="#111" stroke="#111" stroke-width="0.25">0.0</text>
<line x1="34.2" y1="293.1" x2="35.6" y2="293.1" stroke="#222" stroke-width="1.0"/>
<text x="33.2" y="295.4" font-size="6.7" font-weight="bold" text-anchor="end" fill="#111" stroke="#111" stroke-width="0.25">0.4</text>
<line x1="34.2" y1="276.7" x2="35.6" y2="276.7" stroke="#222" stroke-width="1.0"/>
<text x="33.2" y="279" font-size="6.7" font-weight="bold" text-anchor="end" fill="#111" stroke="#111" stroke-width="0.25">0.8</text>
<rect x="245.5" y="317.3" width="8.5" height="51.3" fill="#EBEBEB"/>
<text x="246.9" y="342.95" font-size="7.0" font-weight="bold" text-anchor="middle" fill="#111" stroke="#111" stroke-width="0.25" transform="rotate(90 246.9 342.95)">Strong</text>
<line x1="38" y1="317.3" x2="38" y2="368.6" stroke="#E9E9E9" stroke-width="0.5"/>
<line x1="49.4" y1="317.3" x2="49.4" y2="368.6" stroke="#E9E9E9" stroke-width="0.5"/>
<line x1="60.8" y1="317.3" x2="60.8" y2="368.6" stroke="#E9E9E9" stroke-width="0.5"/>
<line x1="72.2" y1="317.3" x2="72.2" y2="368.6" stroke="#E9E9E9" stroke-width="0.5"/>
<line x1="83.6" y1="317.3" x2="83.6" y2="368.6" stroke="#E9E9E9" stroke-width="0.5"/>
<line x1="35.7" y1="363.3" x2="86.2" y2="363.3" stroke="#E9E9E9" stroke-width="0.5"/>
<line x1="35.7" y1="346.9" x2="86.2" y2="346.9" stroke="#E9E9E9" stroke-width="0.5"/>
<line x1="35.7" y1="330.5" x2="86.2" y2="330.5" stroke="#E9E9E9" stroke-width="0.5"/>
<line x1="91" y1="317.3" x2="91" y2="368.6" stroke="#E9E9E9" stroke-width="0.5"/>
<line x1="102.4" y1="317.3" x2="102.4" y2="368.6" stroke="#E9E9E9" stroke-width="0.5"/>
<line x1="113.8" y1="317.3" x2="113.8" y2="368.6" stroke="#E9E9E9" stroke-width="0.5"/>
<line x1="125.2" y1="317.3" x2="125.2" y2="368.6" stroke="#E9E9E9" stroke-width="0.5"/>
<line x1="136.6" y1="317.3" x2="136.6" y2="368.6" stroke="#E9E9E9" stroke-width="0.5"/>
<line x1="88.7" y1="363.3" x2="139.2" y2="363.3" stroke="#E9E9E9" stroke-width="0.5"/>
<line x1="88.7" y1="346.9" x2="139.2" y2="346.9" stroke="#E9E9E9" stroke-width="0.5"/>
<line x1="88.7" y1="330.5" x2="139.2" y2="330.5" stroke="#E9E9E9" stroke-width="0.5"/>
<line x1="144" y1="317.3" x2="144" y2="368.6" stroke="#E9E9E9" stroke-width="0.5"/>
<line x1="155.4" y1="317.3" x2="155.4" y2="368.6" stroke="#E9E9E9" stroke-width="0.5"/>
<line x1="166.8" y1="317.3" x2="166.8" y2="368.6" stroke="#E9E9E9" stroke-width="0.5"/>
<line x1="178.2" y1="317.3" x2="178.2" y2="368.6" stroke="#E9E9E9" stroke-width="0.5"/>
<line x1="189.6" y1="317.3" x2="189.6" y2="368.6" stroke="#E9E9E9" stroke-width="0.5"/>
<line x1="141.7" y1="363.3" x2="192.2" y2="363.3" stroke="#E9E9E9" stroke-width="0.5"/>
<line x1="141.7" y1="346.9" x2="192.2" y2="346.9" stroke="#E9E9E9" stroke-width="0.5"/>
<line x1="141.7" y1="330.5" x2="192.2" y2="330.5" stroke="#E9E9E9" stroke-width="0.5"/>
<line x1="197.1" y1="317.3" x2="197.1" y2="368.6" stroke="#E9E9E9" stroke-width="0.5"/>
<line x1="208.5" y1="317.3" x2="208.5" y2="368.6" stroke="#E9E9E9" stroke-width="0.5"/>
<line x1="219.9" y1="317.3" x2="219.9" y2="368.6" stroke="#E9E9E9" stroke-width="0.5"/>
<line x1="231.3" y1="317.3" x2="231.3" y2="368.6" stroke="#E9E9E9" stroke-width="0.5"/>
<line x1="242.7" y1="317.3" x2="242.7" y2="368.6" stroke="#E9E9E9" stroke-width="0.5"/>
<line x1="194.8" y1="363.3" x2="245.3" y2="363.3" stroke="#E9E9E9" stroke-width="0.5"/>
<line x1="194.8" y1="346.9" x2="245.3" y2="346.9" stroke="#E9E9E9" stroke-width="0.5"/>
<line x1="194.8" y1="330.5" x2="245.3" y2="330.5" stroke="#E9E9E9" stroke-width="0.5"/>
<line x1="35.6" y1="317.3" x2="35.6" y2="368.6" stroke="#4d4d4d" stroke-width="0.9"/>
<line x1="34.2" y1="363.3" x2="35.6" y2="363.3" stroke="#222" stroke-width="1.0"/>
<text x="33.2" y="365.6" font-size="6.7" font-weight="bold" text-anchor="end" fill="#111" stroke="#111" stroke-width="0.25">0.0</text>
<line x1="34.2" y1="346.9" x2="35.6" y2="346.9" stroke="#222" stroke-width="1.0"/>
<text x="33.2" y="349.2" font-size="6.7" font-weight="bold" text-anchor="end" fill="#111" stroke="#111" stroke-width="0.25">0.4</text>
<line x1="34.2" y1="330.5" x2="35.6" y2="330.5" stroke="#222" stroke-width="1.0"/>
<text x="33.2" y="332.8" font-size="6.7" font-weight="bold" text-anchor="end" fill="#111" stroke="#111" stroke-width="0.25">0.8</text>
<line x1="35.7" y1="369.2" x2="86.2" y2="369.2" stroke="#4d4d4d" stroke-width="0.9"/>
<line x1="38" y1="369.2" x2="38" y2="370.6" stroke="#222" stroke-width="1.0"/>
<text x="38" y="376.3" font-size="6.1" font-weight="bold" text-anchor="middle" fill="#111" stroke="#111" stroke-width="0.25">2</text>
<line x1="49.4" y1="369.2" x2="49.4" y2="370.6" stroke="#222" stroke-width="1.0"/>
<text x="49.4" y="376.3" font-size="6.1" font-weight="bold" text-anchor="middle" fill="#111" stroke="#111" stroke-width="0.25">4</text>
<line x1="60.8" y1="369.2" x2="60.8" y2="370.6" stroke="#222" stroke-width="1.0"/>
<text x="60.8" y="376.3" font-size="6.1" font-weight="bold" text-anchor="middle" fill="#111" stroke="#111" stroke-width="0.25">6</text>
<line x1="72.2" y1="369.2" x2="72.2" y2="370.6" stroke="#222" stroke-width="1.0"/>
<text x="72.2" y="376.3" font-size="6.1" font-weight="bold" text-anchor="middle" fill="#111" stroke="#111" stroke-width="0.25">8</text>
<line x1="83.6" y1="369.2" x2="83.6" y2="370.6" stroke="#222" stroke-width="1.0"/>
<text x="83.6" y="376.3" font-size="6.1" font-weight="bold" text-anchor="middle" fill="#111" stroke="#111" stroke-width="0.25">10</text>
<line x1="88.7" y1="369.2" x2="139.2" y2="369.2" stroke="#4d4d4d" stroke-width="0.9"/>
<line x1="91" y1="369.2" x2="91" y2="370.6" stroke="#222" stroke-width="1.0"/>
<text x="91" y="376.3" font-size="6.1" font-weight="bold" text-anchor="middle" fill="#111" stroke="#111" stroke-width="0.25">2</text>
<line x1="102.4" y1="369.2" x2="102.4" y2="370.6" stroke="#222" stroke-width="1.0"/>
<text x="102.4" y="376.3" font-size="6.1" font-weight="bold" text-anchor="middle" fill="#111" stroke="#111" stroke-width="0.25">4</text>
<line x1="113.8" y1="369.2" x2="113.8" y2="370.6" stroke="#222" stroke-width="1.0"/>
<text x="113.8" y="376.3" font-size="6.1" font-weight="bold" text-anchor="middle" fill="#111" stroke="#111" stroke-width="0.25">6</text>
<line x1="125.2" y1="369.2" x2="125.2" y2="370.6" stroke="#222" stroke-width="1.0"/>
<text x="125.2" y="376.3" font-size="6.1" font-weight="bold" text-anchor="middle" fill="#111" stroke="#111" stroke-width="0.25">8</text>
<line x1="136.6" y1="369.2" x2="136.6" y2="370.6" stroke="#222" stroke-width="1.0"/>
<text x="136.6" y="376.3" font-size="6.1" font-weight="bold" text-anchor="middle" fill="#111" stroke="#111" stroke-width="0.25">10</text>
<line x1="141.7" y1="369.2" x2="192.2" y2="369.2" stroke="#4d4d4d" stroke-width="0.9"/>
<line x1="144" y1="369.2" x2="144" y2="370.6" stroke="#222" stroke-width="1.0"/>
<text x="144" y="376.3" font-size="6.1" font-weight="bold" text-anchor="middle" fill="#111" stroke="#111" stroke-width="0.25">2</text>
<line x1="155.4" y1="369.2" x2="155.4" y2="370.6" stroke="#222" stroke-width="1.0"/>
<text x="155.4" y="376.3" font-size="6.1" font-weight="bold" text-anchor="middle" fill="#111" stroke="#111" stroke-width="0.25">4</text>
<line x1="166.8" y1="369.2" x2="166.8" y2="370.6" stroke="#222" stroke-width="1.0"/>
<text x="166.8" y="376.3" font-size="6.1" font-weight="bold" text-anchor="middle" fill="#111" stroke="#111" stroke-width="0.25">6</text>
<line x1="178.2" y1="369.2" x2="178.2" y2="370.6" stroke="#222" stroke-width="1.0"/>
<text x="178.2" y="376.3" font-size="6.1" font-weight="bold" text-anchor="middle" fill="#111" stroke="#111" stroke-width="0.25">8</text>
<line x1="189.6" y1="369.2" x2="189.6" y2="370.6" stroke="#222" stroke-width="1.0"/>
<text x="189.6" y="376.3" font-size="6.1" font-weight="bold" text-anchor="middle" fill="#111" stroke="#111" stroke-width="0.25">10</text>
<line x1="194.8" y1="369.2" x2="245.3" y2="369.2" stroke="#4d4d4d" stroke-width="0.9"/>
<line x1="197.1" y1="369.2" x2="197.1" y2="370.6" stroke="#222" stroke-width="1.0"/>
<text x="197.1" y="376.3" font-size="6.1" font-weight="bold" text-anchor="middle" fill="#111" stroke="#111" stroke-width="0.25">2</text>
<line x1="208.5" y1="369.2" x2="208.5" y2="370.6" stroke="#222" stroke-width="1.0"/>
<text x="208.5" y="376.3" font-size="6.1" font-weight="bold" text-anchor="middle" fill="#111" stroke="#111" stroke-width="0.25">4</text>
<line x1="219.9" y1="369.2" x2="219.9" y2="370.6" stroke="#222" stroke-width="1.0"/>
<text x="219.9" y="376.3" font-size="6.1" font-weight="bold" text-anchor="middle" fill="#111" stroke="#111" stroke-width="0.25">6</text>
<line x1="231.3" y1="369.2" x2="231.3" y2="370.6" stroke="#222" stroke-width="1.0"/>
<text x="231.3" y="376.3" font-size="6.1" font-weight="bold" text-anchor="middle" fill="#111" stroke="#111" stroke-width="0.25">8</text>
<line x1="242.7" y1="369.2" x2="242.7" y2="370.6" stroke="#222" stroke-width="1.0"/>
<text x="242.7" y="376.3" font-size="6.1" font-weight="bold" text-anchor="middle" fill="#111" stroke="#111" stroke-width="0.25">10</text>
<text x="140.5" y="383.9" font-size="9.5" font-weight="bold" text-anchor="middle" fill="#111" stroke="#111" stroke-width="0.25">n</text>
<text x="22.6" y="288.8" font-size="9.0" font-weight="bold" text-anchor="middle" fill="#111" stroke="#111" stroke-width="0.25" transform="rotate(-90 22.6 288.8)" textLength="72" lengthAdjust="spacingAndGlyphs">Empirical power</text>
<polygon points="38,243.3 60.8,244.8 83.6,245.2 83.6,258.1 60.8,253.4 38,255.8" fill="#D6D6D6"/>
<polyline points="38,249.5 60.8,250.3 83.6,251.4" fill="none" stroke="#4472B6" stroke-width="1.0" stroke-linejoin="round"/>
<polygon points="91,244.5 113.8,248.3 136.6,249.2 136.6,256 113.8,254.3 91,251.3" fill="#D6D6D6"/>
<polyline points="91,247.9 113.8,251.3 136.6,252.6" fill="none" stroke="#4472B6" stroke-width="1.0" stroke-linejoin="round"/>
<polygon points="144,244.8 166.8,248.6 189.6,252.5 189.6,256 166.8,252.2 144,248.4" fill="#D6D6D6"/>
<polyline points="144,246.7 166.8,250.5 189.6,254.3" fill="none" stroke="#4472B6" stroke-width="1.0" stroke-linejoin="round"/>
<polygon points="197.1,242 219.9,246.3 242.7,244.6 242.7,255.8 219.9,254.7 197.1,250.5" fill="#D6D6D6"/>
<polyline points="197.1,246.9 219.9,251.1 242.7,249.8" fill="none" stroke="#4472B6" stroke-width="1.0" stroke-linejoin="round"/>
<polygon points="38,290.7 60.8,289.9 83.6,287.9 83.6,301.4 60.8,300.4 38,304" fill="#D6D6D6"/>
<polyline points="38,297.4 60.8,294.9 83.6,294.3" fill="none" stroke="#4472B6" stroke-width="1.0" stroke-linejoin="round"/>
<polygon points="91,284.6 113.8,283.2 136.6,278.8 136.6,291.9 113.8,292.3 91,298.4" fill="#D6D6D6"/>
<polyline points="91,291.7 113.8,287.9 136.6,285.2" fill="none" stroke="#4472B6" stroke-width="1.0" stroke-linejoin="round"/>
<polygon points="144,279.3 166.8,276.4 189.6,268.3 189.6,276.4 166.8,282.1 144,287.4" fill="#D6D6D6"/>
<polyline points="144,283.2 166.8,278.9 189.6,272.6" fill="none" stroke="#4472B6" stroke-width="1.0" stroke-linejoin="round"/>
<polygon points="197.1,277.2 219.9,268.3 242.7,267.3 242.7,277.2 219.9,275.1 197.1,289.1" fill="#D6D6D6"/>
<polyline points="197.1,283.8 219.9,272.2 242.7,272.2" fill="none" stroke="#4472B6" stroke-width="1.0" stroke-linejoin="round"/>
<polygon points="38,336.2 60.8,333.8 83.6,323.7 83.6,335.2 60.8,340.2 38,348.3" fill="#D6D6D6"/>
<polyline points="38,342.3 60.8,337.2 83.6,328.7" fill="none" stroke="#4472B6" stroke-width="1.0" stroke-linejoin="round"/>
<polygon points="91,328.5 113.8,323.1 136.6,320 136.6,326.1 113.8,326.1 91,335.2" fill="#D6D6D6"/>
<polyline points="91,331.8 113.8,324.7 136.6,323.1" fill="none" stroke="#4472B6" stroke-width="1.0" stroke-linejoin="round"/>
<polyline points="144,327.2 166.8,322.3 189.6,321.9" fill="none" stroke="#4472B6" stroke-width="1.0" stroke-linejoin="round"/>
<polyline points="197.1,323.4 219.9,321.9 242.7,321.9" fill="none" stroke="#4472B6" stroke-width="1.0" stroke-linejoin="round"/>
<text transform="translate(262.5 221.0) scale(0.98 1.06)" font-size="18.5" font-weight="bold" fill="#111" stroke="#111" stroke-width="0.45">D</text>
<rect x="302" y="200.6" width="39.4" height="10.4" fill="#EBEBEB"/>
<text x="321.7" y="209.0" font-size="6.8" text-anchor="middle" fill="#2a2a2a">500 mm<tspan font-size="4.8" dy="-3.0">3</tspan></text>
<rect x="344.2" y="200.6" width="39.4" height="10.4" fill="#EBEBEB"/>
<text x="363.9" y="209.0" font-size="6.8" text-anchor="middle" fill="#2a2a2a">1,000 mm<tspan font-size="4.8" dy="-3.0">3</tspan></text>
<rect x="386.4" y="200.6" width="39.4" height="10.4" fill="#EBEBEB"/>
<text x="406.1" y="209.0" font-size="6.8" text-anchor="middle" fill="#2a2a2a">1,500 mm<tspan font-size="4.8" dy="-3.0">3</tspan></text>
<rect x="428.6" y="200.6" width="39.4" height="10.4" fill="#EBEBEB"/>
<text x="448.3" y="209.0" font-size="6.8" text-anchor="middle" fill="#2a2a2a">2,000 mm<tspan font-size="4.8" dy="-3.0">3</tspan></text>
<rect x="470.8" y="200.6" width="39.4" height="10.4" fill="#EBEBEB"/>
<text x="490.5" y="209.0" font-size="6.8" text-anchor="middle" fill="#2a2a2a">2,500 mm<tspan font-size="4.8" dy="-3.0">3</tspan></text>
<rect x="510" y="211.3" width="10" height="51.1" fill="#EBEBEB"/>
<text x="512.2" y="237.35" font-size="6.8" font-weight="normal" text-anchor="middle" fill="#222" stroke="#222" stroke-width="0.15" transform="rotate(90 512.2 237.35)">Nil</text>
<line x1="303.8" y1="211.3" x2="303.8" y2="262.4" stroke="#E9E9E9" stroke-width="0.5"/>
<line x1="312.78" y1="211.3" x2="312.78" y2="262.4" stroke="#E9E9E9" stroke-width="0.5"/>
<line x1="321.76" y1="211.3" x2="321.76" y2="262.4" stroke="#E9E9E9" stroke-width="0.5"/>
<line x1="330.74" y1="211.3" x2="330.74" y2="262.4" stroke="#E9E9E9" stroke-width="0.5"/>
<line x1="339.72" y1="211.3" x2="339.72" y2="262.4" stroke="#E9E9E9" stroke-width="0.5"/>
<line x1="302" y1="260.8" x2="341.4" y2="260.8" stroke="#E9E9E9" stroke-width="0.5"/>
<line x1="302" y1="247.6" x2="341.4" y2="247.6" stroke="#E9E9E9" stroke-width="0.5"/>
<line x1="302" y1="234.4" x2="341.4" y2="234.4" stroke="#E9E9E9" stroke-width="0.5"/>
<line x1="302" y1="221.2" x2="341.4" y2="221.2" stroke="#E9E9E9" stroke-width="0.5"/>
<line x1="346" y1="211.3" x2="346" y2="262.4" stroke="#E9E9E9" stroke-width="0.5"/>
<line x1="354.98" y1="211.3" x2="354.98" y2="262.4" stroke="#E9E9E9" stroke-width="0.5"/>
<line x1="363.96" y1="211.3" x2="363.96" y2="262.4" stroke="#E9E9E9" stroke-width="0.5"/>
<line x1="372.94" y1="211.3" x2="372.94" y2="262.4" stroke="#E9E9E9" stroke-width="0.5"/>
<line x1="381.92" y1="211.3" x2="381.92" y2="262.4" stroke="#E9E9E9" stroke-width="0.5"/>
<line x1="344.2" y1="260.8" x2="383.6" y2="260.8" stroke="#E9E9E9" stroke-width="0.5"/>
<line x1="344.2" y1="247.6" x2="383.6" y2="247.6" stroke="#E9E9E9" stroke-width="0.5"/>
<line x1="344.2" y1="234.4" x2="383.6" y2="234.4" stroke="#E9E9E9" stroke-width="0.5"/>
<line x1="344.2" y1="221.2" x2="383.6" y2="221.2" stroke="#E9E9E9" stroke-width="0.5"/>
<line x1="388.2" y1="211.3" x2="388.2" y2="262.4" stroke="#E9E9E9" stroke-width="0.5"/>
<line x1="397.18" y1="211.3" x2="397.18" y2="262.4" stroke="#E9E9E9" stroke-width="0.5"/>
<line x1="406.16" y1="211.3" x2="406.16" y2="262.4" stroke="#E9E9E9" stroke-width="0.5"/>
<line x1="415.14" y1="211.3" x2="415.14" y2="262.4" stroke="#E9E9E9" stroke-width="0.5"/>
<line x1="424.12" y1="211.3" x2="424.12" y2="262.4" stroke="#E9E9E9" stroke-width="0.5"/>
<line x1="386.4" y1="260.8" x2="425.8" y2="260.8" stroke="#E9E9E9" stroke-width="0.5"/>
<line x1="386.4" y1="247.6" x2="425.8" y2="247.6" stroke="#E9E9E9" stroke-width="0.5"/>
<line x1="386.4" y1="234.4" x2="425.8" y2="234.4" stroke="#E9E9E9" stroke-width="0.5"/>
<line x1="386.4" y1="221.2" x2="425.8" y2="221.2" stroke="#E9E9E9" stroke-width="0.5"/>
<line x1="430.4" y1="211.3" x2="430.4" y2="262.4" stroke="#E9E9E9" stroke-width="0.5"/>
<line x1="439.38" y1="211.3" x2="439.38" y2="262.4" stroke="#E9E9E9" stroke-width="0.5"/>
<line x1="448.36" y1="211.3" x2="448.36" y2="262.4" stroke="#E9E9E9" stroke-width="0.5"/>
<line x1="457.34" y1="211.3" x2="457.34" y2="262.4" stroke="#E9E9E9" stroke-width="0.5"/>
<line x1="466.32" y1="211.3" x2="466.32" y2="262.4" stroke="#E9E9E9" stroke-width="0.5"/>
<line x1="428.6" y1="260.8" x2="468" y2="260.8" stroke="#E9E9E9" stroke-width="0.5"/>
<line x1="428.6" y1="247.6" x2="468" y2="247.6" stroke="#E9E9E9" stroke-width="0.5"/>
<line x1="428.6" y1="234.4" x2="468" y2="234.4" stroke="#E9E9E9" stroke-width="0.5"/>
<line x1="428.6" y1="221.2" x2="468" y2="221.2" stroke="#E9E9E9" stroke-width="0.5"/>
<line x1="472.6" y1="211.3" x2="472.6" y2="262.4" stroke="#E9E9E9" stroke-width="0.5"/>
<line x1="481.58" y1="211.3" x2="481.58" y2="262.4" stroke="#E9E9E9" stroke-width="0.5"/>
<line x1="490.56" y1="211.3" x2="490.56" y2="262.4" stroke="#E9E9E9" stroke-width="0.5"/>
<line x1="499.54" y1="211.3" x2="499.54" y2="262.4" stroke="#E9E9E9" stroke-width="0.5"/>
<line x1="508.52" y1="211.3" x2="508.52" y2="262.4" stroke="#E9E9E9" stroke-width="0.5"/>
<line x1="470.8" y1="260.8" x2="510.2" y2="260.8" stroke="#E9E9E9" stroke-width="0.5"/>
<line x1="470.8" y1="247.6" x2="510.2" y2="247.6" stroke="#E9E9E9" stroke-width="0.5"/>
<line x1="470.8" y1="234.4" x2="510.2" y2="234.4" stroke="#E9E9E9" stroke-width="0.5"/>
<line x1="470.8" y1="221.2" x2="510.2" y2="221.2" stroke="#E9E9E9" stroke-width="0.5"/>
<line x1="301.6" y1="211.3" x2="301.6" y2="262.4" stroke="#4d4d4d" stroke-width="0.9"/>
<line x1="300.2" y1="260.8" x2="301.6" y2="260.8" stroke="#222" stroke-width="1.0"/>
<text x="299.2" y="263" font-size="6.3" font-weight="bold" text-anchor="end" fill="#111" stroke="#111" stroke-width="0.25">0.0</text>
<line x1="300.2" y1="247.6" x2="301.6" y2="247.6" stroke="#222" stroke-width="1.0"/>
<text x="299.2" y="249.8" font-size="6.3" font-weight="bold" text-anchor="end" fill="#111" stroke="#111" stroke-width="0.25">0.3</text>
<line x1="300.2" y1="234.4" x2="301.6" y2="234.4" stroke="#222" stroke-width="1.0"/>
<text x="299.2" y="236.6" font-size="6.3" font-weight="bold" text-anchor="end" fill="#111" stroke="#111" stroke-width="0.25">0.6</text>
<line x1="300.2" y1="221.2" x2="301.6" y2="221.2" stroke="#222" stroke-width="1.0"/>
<text x="299.2" y="223.4" font-size="6.3" font-weight="bold" text-anchor="end" fill="#111" stroke="#111" stroke-width="0.25">0.9</text>
<rect x="510" y="264.6" width="10" height="51" fill="#EBEBEB"/>
<text x="512.2" y="290.6" font-size="6.8" font-weight="normal" text-anchor="middle" fill="#222" stroke="#222" stroke-width="0.15" transform="rotate(90 512.2 290.6)">Weak</text>
<line x1="303.8" y1="264.6" x2="303.8" y2="315.6" stroke="#E9E9E9" stroke-width="0.5"/>
<line x1="312.78" y1="264.6" x2="312.78" y2="315.6" stroke="#E9E9E9" stroke-width="0.5"/>
<line x1="321.76" y1="264.6" x2="321.76" y2="315.6" stroke="#E9E9E9" stroke-width="0.5"/>
<line x1="330.74" y1="264.6" x2="330.74" y2="315.6" stroke="#E9E9E9" stroke-width="0.5"/>
<line x1="339.72" y1="264.6" x2="339.72" y2="315.6" stroke="#E9E9E9" stroke-width="0.5"/>
<line x1="302" y1="314.5" x2="341.4" y2="314.5" stroke="#E9E9E9" stroke-width="0.5"/>
<line x1="302" y1="301.3" x2="341.4" y2="301.3" stroke="#E9E9E9" stroke-width="0.5"/>
<line x1="302" y1="288.1" x2="341.4" y2="288.1" stroke="#E9E9E9" stroke-width="0.5"/>
<line x1="302" y1="274.9" x2="341.4" y2="274.9" stroke="#E9E9E9" stroke-width="0.5"/>
<line x1="346" y1="264.6" x2="346" y2="315.6" stroke="#E9E9E9" stroke-width="0.5"/>
<line x1="354.98" y1="264.6" x2="354.98" y2="315.6" stroke="#E9E9E9" stroke-width="0.5"/>
<line x1="363.96" y1="264.6" x2="363.96" y2="315.6" stroke="#E9E9E9" stroke-width="0.5"/>
<line x1="372.94" y1="264.6" x2="372.94" y2="315.6" stroke="#E9E9E9" stroke-width="0.5"/>
<line x1="381.92" y1="264.6" x2="381.92" y2="315.6" stroke="#E9E9E9" stroke-width="0.5"/>
<line x1="344.2" y1="314.5" x2="383.6" y2="314.5" stroke="#E9E9E9" stroke-width="0.5"/>
<line x1="344.2" y1="301.3" x2="383.6" y2="301.3" stroke="#E9E9E9" stroke-width="0.5"/>
<line x1="344.2" y1="288.1" x2="383.6" y2="288.1" stroke="#E9E9E9" stroke-width="0.5"/>
<line x1="344.2" y1="274.9" x2="383.6" y2="274.9" stroke="#E9E9E9" stroke-width="0.5"/>
<line x1="388.2" y1="264.6" x2="388.2" y2="315.6" stroke="#E9E9E9" stroke-width="0.5"/>
<line x1="397.18" y1="264.6" x2="397.18" y2="315.6" stroke="#E9E9E9" stroke-width="0.5"/>
<line x1="406.16" y1="264.6" x2="406.16" y2="315.6" stroke="#E9E9E9" stroke-width="0.5"/>
<line x1="415.14" y1="264.6" x2="415.14" y2="315.6" stroke="#E9E9E9" stroke-width="0.5"/>
<line x1="424.12" y1="264.6" x2="424.12" y2="315.6" stroke="#E9E9E9" stroke-width="0.5"/>
<line x1="386.4" y1="314.5" x2="425.8" y2="314.5" stroke="#E9E9E9" stroke-width="0.5"/>
<line x1="386.4" y1="301.3" x2="425.8" y2="301.3" stroke="#E9E9E9" stroke-width="0.5"/>
<line x1="386.4" y1="288.1" x2="425.8" y2="288.1" stroke="#E9E9E9" stroke-width="0.5"/>
<line x1="386.4" y1="274.9" x2="425.8" y2="274.9" stroke="#E9E9E9" stroke-width="0.5"/>
<line x1="430.4" y1="264.6" x2="430.4" y2="315.6" stroke="#E9E9E9" stroke-width="0.5"/>
<line x1="439.38" y1="264.6" x2="439.38" y2="315.6" stroke="#E9E9E9" stroke-width="0.5"/>
<line x1="448.36" y1="264.6" x2="448.36" y2="315.6" stroke="#E9E9E9" stroke-width="0.5"/>
<line x1="457.34" y1="264.6" x2="457.34" y2="315.6" stroke="#E9E9E9" stroke-width="0.5"/>
<line x1="466.32" y1="264.6" x2="466.32" y2="315.6" stroke="#E9E9E9" stroke-width="0.5"/>
<line x1="428.6" y1="314.5" x2="468" y2="314.5" stroke="#E9E9E9" stroke-width="0.5"/>
<line x1="428.6" y1="301.3" x2="468" y2="301.3" stroke="#E9E9E9" stroke-width="0.5"/>
<line x1="428.6" y1="288.1" x2="468" y2="288.1" stroke="#E9E9E9" stroke-width="0.5"/>
<line x1="428.6" y1="274.9" x2="468" y2="274.9" stroke="#E9E9E9" stroke-width="0.5"/>
<line x1="472.6" y1="264.6" x2="472.6" y2="315.6" stroke="#E9E9E9" stroke-width="0.5"/>
<line x1="481.58" y1="264.6" x2="481.58" y2="315.6" stroke="#E9E9E9" stroke-width="0.5"/>
<line x1="490.56" y1="264.6" x2="490.56" y2="315.6" stroke="#E9E9E9" stroke-width="0.5"/>
<line x1="499.54" y1="264.6" x2="499.54" y2="315.6" stroke="#E9E9E9" stroke-width="0.5"/>
<line x1="508.52" y1="264.6" x2="508.52" y2="315.6" stroke="#E9E9E9" stroke-width="0.5"/>
<line x1="470.8" y1="314.5" x2="510.2" y2="314.5" stroke="#E9E9E9" stroke-width="0.5"/>
<line x1="470.8" y1="301.3" x2="510.2" y2="301.3" stroke="#E9E9E9" stroke-width="0.5"/>
<line x1="470.8" y1="288.1" x2="510.2" y2="288.1" stroke="#E9E9E9" stroke-width="0.5"/>
<line x1="470.8" y1="274.9" x2="510.2" y2="274.9" stroke="#E9E9E9" stroke-width="0.5"/>
<line x1="301.6" y1="264.6" x2="301.6" y2="315.6" stroke="#4d4d4d" stroke-width="0.9"/>
<line x1="300.2" y1="314.5" x2="301.6" y2="314.5" stroke="#222" stroke-width="1.0"/>
<text x="299.2" y="316.7" font-size="6.3" font-weight="bold" text-anchor="end" fill="#111" stroke="#111" stroke-width="0.25">0.0</text>
<line x1="300.2" y1="301.3" x2="301.6" y2="301.3" stroke="#222" stroke-width="1.0"/>
<text x="299.2" y="303.5" font-size="6.3" font-weight="bold" text-anchor="end" fill="#111" stroke="#111" stroke-width="0.25">0.3</text>
<line x1="300.2" y1="288.1" x2="301.6" y2="288.1" stroke="#222" stroke-width="1.0"/>
<text x="299.2" y="290.3" font-size="6.3" font-weight="bold" text-anchor="end" fill="#111" stroke="#111" stroke-width="0.25">0.6</text>
<line x1="300.2" y1="274.9" x2="301.6" y2="274.9" stroke="#222" stroke-width="1.0"/>
<text x="299.2" y="277.1" font-size="6.3" font-weight="bold" text-anchor="end" fill="#111" stroke="#111" stroke-width="0.25">0.9</text>
<rect x="510" y="317.8" width="10" height="51.4" fill="#EBEBEB"/>
<text x="512.2" y="344" font-size="6.8" font-weight="normal" text-anchor="middle" fill="#222" stroke="#222" stroke-width="0.15" transform="rotate(90 512.2 344)">Strong</text>
<line x1="303.8" y1="317.8" x2="303.8" y2="369.2" stroke="#E9E9E9" stroke-width="0.5"/>
<line x1="312.78" y1="317.8" x2="312.78" y2="369.2" stroke="#E9E9E9" stroke-width="0.5"/>
<line x1="321.76" y1="317.8" x2="321.76" y2="369.2" stroke="#E9E9E9" stroke-width="0.5"/>
<line x1="330.74" y1="317.8" x2="330.74" y2="369.2" stroke="#E9E9E9" stroke-width="0.5"/>
<line x1="339.72" y1="317.8" x2="339.72" y2="369.2" stroke="#E9E9E9" stroke-width="0.5"/>
<line x1="302" y1="368.2" x2="341.4" y2="368.2" stroke="#E9E9E9" stroke-width="0.5"/>
<line x1="302" y1="355" x2="341.4" y2="355" stroke="#E9E9E9" stroke-width="0.5"/>
<line x1="302" y1="341.8" x2="341.4" y2="341.8" stroke="#E9E9E9" stroke-width="0.5"/>
<line x1="302" y1="328.6" x2="341.4" y2="328.6" stroke="#E9E9E9" stroke-width="0.5"/>
<line x1="346" y1="317.8" x2="346" y2="369.2" stroke="#E9E9E9" stroke-width="0.5"/>
<line x1="354.98" y1="317.8" x2="354.98" y2="369.2" stroke="#E9E9E9" stroke-width="0.5"/>
<line x1="363.96" y1="317.8" x2="363.96" y2="369.2" stroke="#E9E9E9" stroke-width="0.5"/>
<line x1="372.94" y1="317.8" x2="372.94" y2="369.2" stroke="#E9E9E9" stroke-width="0.5"/>
<line x1="381.92" y1="317.8" x2="381.92" y2="369.2" stroke="#E9E9E9" stroke-width="0.5"/>
<line x1="344.2" y1="368.2" x2="383.6" y2="368.2" stroke="#E9E9E9" stroke-width="0.5"/>
<line x1="344.2" y1="355" x2="383.6" y2="355" stroke="#E9E9E9" stroke-width="0.5"/>
<line x1="344.2" y1="341.8" x2="383.6" y2="341.8" stroke="#E9E9E9" stroke-width="0.5"/>
<line x1="344.2" y1="328.6" x2="383.6" y2="328.6" stroke="#E9E9E9" stroke-width="0.5"/>
<line x1="388.2" y1="317.8" x2="388.2" y2="369.2" stroke="#E9E9E9" stroke-width="0.5"/>
<line x1="397.18" y1="317.8" x2="397.18" y2="369.2" stroke="#E9E9E9" stroke-width="0.5"/>
<line x1="406.16" y1="317.8" x2="406.16" y2="369.2" stroke="#E9E9E9" stroke-width="0.5"/>
<line x1="415.14" y1="317.8" x2="415.14" y2="369.2" stroke="#E9E9E9" stroke-width="0.5"/>
<line x1="424.12" y1="317.8" x2="424.12" y2="369.2" stroke="#E9E9E9" stroke-width="0.5"/>
<line x1="386.4" y1="368.2" x2="425.8" y2="368.2" stroke="#E9E9E9" stroke-width="0.5"/>
<line x1="386.4" y1="355" x2="425.8" y2="355" stroke="#E9E9E9" stroke-width="0.5"/>
<line x1="386.4" y1="341.8" x2="425.8" y2="341.8" stroke="#E9E9E9" stroke-width="0.5"/>
<line x1="386.4" y1="328.6" x2="425.8" y2="328.6" stroke="#E9E9E9" stroke-width="0.5"/>
<line x1="430.4" y1="317.8" x2="430.4" y2="369.2" stroke="#E9E9E9" stroke-width="0.5"/>
<line x1="439.38" y1="317.8" x2="439.38" y2="369.2" stroke="#E9E9E9" stroke-width="0.5"/>
<line x1="448.36" y1="317.8" x2="448.36" y2="369.2" stroke="#E9E9E9" stroke-width="0.5"/>
<line x1="457.34" y1="317.8" x2="457.34" y2="369.2" stroke="#E9E9E9" stroke-width="0.5"/>
<line x1="466.32" y1="317.8" x2="466.32" y2="369.2" stroke="#E9E9E9" stroke-width="0.5"/>
<line x1="428.6" y1="368.2" x2="468" y2="368.2" stroke="#E9E9E9" stroke-width="0.5"/>
<line x1="428.6" y1="355" x2="468" y2="355" stroke="#E9E9E9" stroke-width="0.5"/>
<line x1="428.6" y1="341.8" x2="468" y2="341.8" stroke="#E9E9E9" stroke-width="0.5"/>
<line x1="428.6" y1="328.6" x2="468" y2="328.6" stroke="#E9E9E9" stroke-width="0.5"/>
<line x1="472.6" y1="317.8" x2="472.6" y2="369.2" stroke="#E9E9E9" stroke-width="0.5"/>
<line x1="481.58" y1="317.8" x2="481.58" y2="369.2" stroke="#E9E9E9" stroke-width="0.5"/>
<line x1="490.56" y1="317.8" x2="490.56" y2="369.2" stroke="#E9E9E9" stroke-width="0.5"/>
<line x1="499.54" y1="317.8" x2="499.54" y2="369.2" stroke="#E9E9E9" stroke-width="0.5"/>
<line x1="508.52" y1="317.8" x2="508.52" y2="369.2" stroke="#E9E9E9" stroke-width="0.5"/>
<line x1="470.8" y1="368.2" x2="510.2" y2="368.2" stroke="#E9E9E9" stroke-width="0.5"/>
<line x1="470.8" y1="355" x2="510.2" y2="355" stroke="#E9E9E9" stroke-width="0.5"/>
<line x1="470.8" y1="341.8" x2="510.2" y2="341.8" stroke="#E9E9E9" stroke-width="0.5"/>
<line x1="470.8" y1="328.6" x2="510.2" y2="328.6" stroke="#E9E9E9" stroke-width="0.5"/>
<line x1="301.6" y1="317.8" x2="301.6" y2="369.2" stroke="#4d4d4d" stroke-width="0.9"/>
<line x1="300.2" y1="368.2" x2="301.6" y2="368.2" stroke="#222" stroke-width="1.0"/>
<text x="299.2" y="370.4" font-size="6.3" font-weight="bold" text-anchor="end" fill="#111" stroke="#111" stroke-width="0.25">0.0</text>
<line x1="300.2" y1="355" x2="301.6" y2="355" stroke="#222" stroke-width="1.0"/>
<text x="299.2" y="357.2" font-size="6.3" font-weight="bold" text-anchor="end" fill="#111" stroke="#111" stroke-width="0.25">0.3</text>
<line x1="300.2" y1="341.8" x2="301.6" y2="341.8" stroke="#222" stroke-width="1.0"/>
<text x="299.2" y="344" font-size="6.3" font-weight="bold" text-anchor="end" fill="#111" stroke="#111" stroke-width="0.25">0.6</text>
<line x1="300.2" y1="328.6" x2="301.6" y2="328.6" stroke="#222" stroke-width="1.0"/>
<text x="299.2" y="330.8" font-size="6.3" font-weight="bold" text-anchor="end" fill="#111" stroke="#111" stroke-width="0.25">0.9</text>
<line x1="302" y1="369.3" x2="341.4" y2="369.3" stroke="#4d4d4d" stroke-width="0.9"/>
<line x1="303.8" y1="369.3" x2="303.8" y2="370.7" stroke="#222" stroke-width="1.0"/>
<text x="303.8" y="376.4" font-size="6.1" font-weight="bold" text-anchor="middle" fill="#111" stroke="#111" stroke-width="0.25">2</text>
<line x1="312.78" y1="369.3" x2="312.78" y2="370.7" stroke="#222" stroke-width="1.0"/>
<text x="312.78" y="376.4" font-size="6.1" font-weight="bold" text-anchor="middle" fill="#111" stroke="#111" stroke-width="0.25">4</text>
<line x1="321.76" y1="369.3" x2="321.76" y2="370.7" stroke="#222" stroke-width="1.0"/>
<text x="321.76" y="376.4" font-size="6.1" font-weight="bold" text-anchor="middle" fill="#111" stroke="#111" stroke-width="0.25">6</text>
<line x1="330.74" y1="369.3" x2="330.74" y2="370.7" stroke="#222" stroke-width="1.0"/>
<text x="330.74" y="376.4" font-size="6.1" font-weight="bold" text-anchor="middle" fill="#111" stroke="#111" stroke-width="0.25">8</text>
<line x1="339.72" y1="369.3" x2="339.72" y2="370.7" stroke="#222" stroke-width="1.0"/>
<text x="339.72" y="376.4" font-size="6.1" font-weight="bold" text-anchor="middle" fill="#111" stroke="#111" stroke-width="0.25">10</text>
<line x1="344.2" y1="369.3" x2="383.6" y2="369.3" stroke="#4d4d4d" stroke-width="0.9"/>
<line x1="346" y1="369.3" x2="346" y2="370.7" stroke="#222" stroke-width="1.0"/>
<text x="346" y="376.4" font-size="6.1" font-weight="bold" text-anchor="middle" fill="#111" stroke="#111" stroke-width="0.25">2</text>
<line x1="354.98" y1="369.3" x2="354.98" y2="370.7" stroke="#222" stroke-width="1.0"/>
<text x="354.98" y="376.4" font-size="6.1" font-weight="bold" text-anchor="middle" fill="#111" stroke="#111" stroke-width="0.25">4</text>
<line x1="363.96" y1="369.3" x2="363.96" y2="370.7" stroke="#222" stroke-width="1.0"/>
<text x="363.96" y="376.4" font-size="6.1" font-weight="bold" text-anchor="middle" fill="#111" stroke="#111" stroke-width="0.25">6</text>
<line x1="372.94" y1="369.3" x2="372.94" y2="370.7" stroke="#222" stroke-width="1.0"/>
<text x="372.94" y="376.4" font-size="6.1" font-weight="bold" text-anchor="middle" fill="#111" stroke="#111" stroke-width="0.25">8</text>
<line x1="381.92" y1="369.3" x2="381.92" y2="370.7" stroke="#222" stroke-width="1.0"/>
<text x="381.92" y="376.4" font-size="6.1" font-weight="bold" text-anchor="middle" fill="#111" stroke="#111" stroke-width="0.25">10</text>
<line x1="386.4" y1="369.3" x2="425.8" y2="369.3" stroke="#4d4d4d" stroke-width="0.9"/>
<line x1="388.2" y1="369.3" x2="388.2" y2="370.7" stroke="#222" stroke-width="1.0"/>
<text x="388.2" y="376.4" font-size="6.1" font-weight="bold" text-anchor="middle" fill="#111" stroke="#111" stroke-width="0.25">2</text>
<line x1="397.18" y1="369.3" x2="397.18" y2="370.7" stroke="#222" stroke-width="1.0"/>
<text x="397.18" y="376.4" font-size="6.1" font-weight="bold" text-anchor="middle" fill="#111" stroke="#111" stroke-width="0.25">4</text>
<line x1="406.16" y1="369.3" x2="406.16" y2="370.7" stroke="#222" stroke-width="1.0"/>
<text x="406.16" y="376.4" font-size="6.1" font-weight="bold" text-anchor="middle" fill="#111" stroke="#111" stroke-width="0.25">6</text>
<line x1="415.14" y1="369.3" x2="415.14" y2="370.7" stroke="#222" stroke-width="1.0"/>
<text x="415.14" y="376.4" font-size="6.1" font-weight="bold" text-anchor="middle" fill="#111" stroke="#111" stroke-width="0.25">8</text>
<line x1="424.12" y1="369.3" x2="424.12" y2="370.7" stroke="#222" stroke-width="1.0"/>
<text x="424.12" y="376.4" font-size="6.1" font-weight="bold" text-anchor="middle" fill="#111" stroke="#111" stroke-width="0.25">10</text>
<line x1="428.6" y1="369.3" x2="468" y2="369.3" stroke="#4d4d4d" stroke-width="0.9"/>
<line x1="430.4" y1="369.3" x2="430.4" y2="370.7" stroke="#222" stroke-width="1.0"/>
<text x="430.4" y="376.4" font-size="6.1" font-weight="bold" text-anchor="middle" fill="#111" stroke="#111" stroke-width="0.25">2</text>
<line x1="439.38" y1="369.3" x2="439.38" y2="370.7" stroke="#222" stroke-width="1.0"/>
<text x="439.38" y="376.4" font-size="6.1" font-weight="bold" text-anchor="middle" fill="#111" stroke="#111" stroke-width="0.25">4</text>
<line x1="448.36" y1="369.3" x2="448.36" y2="370.7" stroke="#222" stroke-width="1.0"/>
<text x="448.36" y="376.4" font-size="6.1" font-weight="bold" text-anchor="middle" fill="#111" stroke="#111" stroke-width="0.25">6</text>
<line x1="457.34" y1="369.3" x2="457.34" y2="370.7" stroke="#222" stroke-width="1.0"/>
<text x="457.34" y="376.4" font-size="6.1" font-weight="bold" text-anchor="middle" fill="#111" stroke="#111" stroke-width="0.25">8</text>
<line x1="466.32" y1="369.3" x2="466.32" y2="370.7" stroke="#222" stroke-width="1.0"/>
<text x="466.32" y="376.4" font-size="6.1" font-weight="bold" text-anchor="middle" fill="#111" stroke="#111" stroke-width="0.25">10</text>
<line x1="470.8" y1="369.3" x2="510.2" y2="369.3" stroke="#4d4d4d" stroke-width="0.9"/>
<line x1="472.6" y1="369.3" x2="472.6" y2="370.7" stroke="#222" stroke-width="1.0"/>
<text x="472.6" y="376.4" font-size="6.1" font-weight="bold" text-anchor="middle" fill="#111" stroke="#111" stroke-width="0.25">2</text>
<line x1="481.58" y1="369.3" x2="481.58" y2="370.7" stroke="#222" stroke-width="1.0"/>
<text x="481.58" y="376.4" font-size="6.1" font-weight="bold" text-anchor="middle" fill="#111" stroke="#111" stroke-width="0.25">4</text>
<line x1="490.56" y1="369.3" x2="490.56" y2="370.7" stroke="#222" stroke-width="1.0"/>
<text x="490.56" y="376.4" font-size="6.1" font-weight="bold" text-anchor="middle" fill="#111" stroke="#111" stroke-width="0.25">6</text>
<line x1="499.54" y1="369.3" x2="499.54" y2="370.7" stroke="#222" stroke-width="1.0"/>
<text x="499.54" y="376.4" font-size="6.1" font-weight="bold" text-anchor="middle" fill="#111" stroke="#111" stroke-width="0.25">8</text>
<line x1="508.52" y1="369.3" x2="508.52" y2="370.7" stroke="#222" stroke-width="1.0"/>
<text x="508.52" y="376.4" font-size="6.1" font-weight="bold" text-anchor="middle" fill="#111" stroke="#111" stroke-width="0.25">10</text>
<text x="406.2" y="383.9" font-size="9.5" font-weight="bold" text-anchor="middle" fill="#111" stroke="#111" stroke-width="0.25">n</text>
<text x="283.3" y="289.9" font-size="9.0" font-weight="bold" text-anchor="middle" fill="#111" stroke="#111" stroke-width="0.25" transform="rotate(-90 283.3 289.9)" textLength="71.8" lengthAdjust="spacingAndGlyphs">Empirical power</text>
<polygon points="303.8,245.6 321.76,252.1 339.72,250.4 339.72,257.3 321.76,257.3 303.8,252.1" fill="#D6D6D6"/>
<polyline points="303.8,249 321.76,255.1 339.72,253.7" fill="none" stroke="#4472B6" stroke-width="1.0" stroke-linejoin="round"/>
<polygon points="346,252.5 363.96,251.1 381.92,252.5 381.92,259.1 363.96,256.3 346,258.5" fill="#D6D6D6"/>
<polyline points="346,255.6 363.96,253.9 381.92,256" fill="none" stroke="#4472B6" stroke-width="1.0" stroke-linejoin="round"/>
<polygon points="388.2,247.3 406.16,253.7 424.12,252.1 424.12,258.5 406.16,258 388.2,252.8" fill="#D6D6D6"/>
<polyline points="388.2,250.4 406.16,256 424.12,255.4" fill="none" stroke="#4472B6" stroke-width="1.0" stroke-linejoin="round"/>
<polygon points="430.4,249.9 448.36,253.5 466.32,253.4 466.32,257.3 448.36,257.6 430.4,254.2" fill="#D6D6D6"/>
<polyline points="430.4,252.1 448.36,255.6 466.32,255.6" fill="none" stroke="#4472B6" stroke-width="1.0" stroke-linejoin="round"/>
<polygon points="472.6,252.1 490.56,254.2 508.52,252.1 508.52,256.8 490.56,258 472.6,255.6" fill="#D6D6D6"/>
<polyline points="472.6,253.9 490.56,256.3 508.52,254.6" fill="none" stroke="#4472B6" stroke-width="1.0" stroke-linejoin="round"/>
<polygon points="303.8,289.1 321.76,283.9 339.72,274 339.72,289.1 321.76,294.3 303.8,303.4" fill="#D6D6D6"/>
<polyline points="303.8,296.4 321.76,289.1 339.72,281.3" fill="none" stroke="#4472B6" stroke-width="1.0" stroke-linejoin="round"/>
<polygon points="346,279.2 363.96,281 381.92,276.1 381.92,295.1 363.96,294.3 346,297.7" fill="#D6D6D6"/>
<polyline points="346,288.6 363.96,287.9 381.92,285.6" fill="none" stroke="#4472B6" stroke-width="1.0" stroke-linejoin="round"/>
<polygon points="388.2,293.8 406.16,285.6 424.12,277.5 424.12,284.4 406.16,290.8 388.2,300.3" fill="#D6D6D6"/>
<polyline points="388.2,296.9 406.16,288.2 424.12,280.8" fill="none" stroke="#4472B6" stroke-width="1.0" stroke-linejoin="round"/>
<polygon points="430.4,284.8 448.36,286.1 466.32,278.7 466.32,288.6 448.36,292.5 430.4,295.1" fill="#D6D6D6"/>
<polyline points="430.4,290 448.36,289.1 466.32,283.4" fill="none" stroke="#4472B6" stroke-width="1.0" stroke-linejoin="round"/>
<polygon points="472.6,283.9 490.56,284.4 508.52,278.2 508.52,288.2 490.56,291.7 472.6,293.8" fill="#D6D6D6"/>
<polyline points="472.6,288.6 490.56,287.9 508.52,283" fill="none" stroke="#4472B6" stroke-width="1.0" stroke-linejoin="round"/>
<polygon points="303.8,330.1 321.76,325 339.72,322.8 339.72,325.8 321.76,328.4 303.8,333.9" fill="#D6D6D6"/>
<polyline points="303.8,332.2 321.76,326.7 339.72,324.6" fill="none" stroke="#4472B6" stroke-width="1.0" stroke-linejoin="round"/>
<polyline points="346,333.6 363.96,325.8 381.92,324.6" fill="none" stroke="#4472B6" stroke-width="1.0" stroke-linejoin="round"/>
<polygon points="388.2,330.5 406.16,323.8 424.12,321.8 424.12,326.5 406.16,327.5 388.2,335" fill="#D6D6D6"/>
<polyline points="388.2,332.7 406.16,325.8 424.12,324.6" fill="none" stroke="#4472B6" stroke-width="1.0" stroke-linejoin="round"/>
<polygon points="430.4,330 448.36,323.5 466.32,320.8 466.32,326 448.36,327.5 430.4,336" fill="#D6D6D6"/>
<polyline points="430.4,332.7 448.36,325.8 466.32,323.7" fill="none" stroke="#4472B6" stroke-width="1.0" stroke-linejoin="round"/>
<polyline points="472.6,333.2 490.56,325.8 508.52,324.1" fill="none" stroke="#4472B6" stroke-width="1.0" stroke-linejoin="round"/>
</svg>
</body></html>
